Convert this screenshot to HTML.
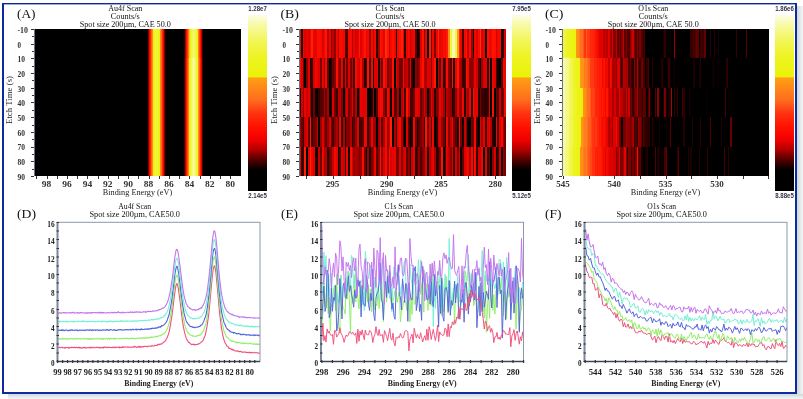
<!DOCTYPE html><html><head><meta charset="utf-8"><style>html,body{margin:0;padding:0;background:#fff;width:803px;height:399px;overflow:hidden}svg{display:block}</style></head><body><svg width="803" height="399" viewBox="0 0 803 399" font-family="'Liberation Serif', serif" fill="#222">
<defs>
<linearGradient id="cb" x1="0" y1="1" x2="0" y2="0">
<stop offset="0.000" stop-color="#000000"/>
<stop offset="0.120" stop-color="#000000"/>
<stop offset="0.176" stop-color="#500000"/>
<stop offset="0.233" stop-color="#b00000"/>
<stop offset="0.290" stop-color="#f00000"/>
<stop offset="0.360" stop-color="#ff1000"/>
<stop offset="0.440" stop-color="#ff3210"/>
<stop offset="0.520" stop-color="#ff6e1e"/>
<stop offset="0.644" stop-color="#ffa014"/>
<stop offset="0.646" stop-color="#eaf208"/>
<stop offset="0.760" stop-color="#eef422"/>
<stop offset="0.860" stop-color="#f2f65c"/>
<stop offset="0.950" stop-color="#f8faac"/>
<stop offset="1.000" stop-color="#fdfde8"/>
</linearGradient>
<linearGradient id="shr" x1="0" y1="0" x2="1" y2="0"><stop offset="0" stop-color="#cfd8d8"/><stop offset="1" stop-color="#f4f6f6"/></linearGradient>
<linearGradient id="shb" x1="0" y1="0" x2="0" y2="1"><stop offset="0" stop-color="#cfd8d8"/><stop offset="1" stop-color="#f4f6f6"/></linearGradient>
</defs>
<rect width="803" height="399" fill="#fff"/>
<rect x="797" y="6" width="6" height="393" fill="url(#shr)"/>
<rect x="8" y="394" width="795" height="5" fill="url(#shb)"/>
<g fill="#0d2a9e"><rect x="2" y="3" width="795" height="1.4"/><rect x="2" y="3" width="2" height="391"/><rect x="795" y="3" width="2" height="391"/><rect x="2" y="392" width="795" height="2"/></g>
<g shape-rendering="crispEdges">
<rect x="34.0" y="29" width="113.0" height="29" fill="#000000"/>
<rect x="147.0" y="29" width="1.0" height="29" fill="#0f0000"/>
<rect x="148.0" y="29" width="1.0" height="29" fill="#800000"/>
<rect x="149.0" y="29" width="1.0" height="29" fill="#ed0800"/>
<rect x="150.0" y="29" width="1.0" height="29" fill="#ff260a"/>
<rect x="151.0" y="29" width="1.0" height="29" fill="#ff621b"/>
<rect x="152.0" y="29" width="1.0" height="29" fill="#ff8c18"/>
<rect x="153.0" y="29" width="1.0" height="29" fill="#ebf30f"/>
<rect x="154.0" y="29" width="1.0" height="29" fill="#edf41e"/>
<rect x="155.0" y="29" width="1.0" height="29" fill="#eff531"/>
<rect x="156.0" y="29" width="1.0" height="29" fill="#f0f539"/>
<rect x="157.0" y="29" width="1.0" height="29" fill="#eff531"/>
<rect x="158.0" y="29" width="1.0" height="29" fill="#edf41e"/>
<rect x="159.0" y="29" width="1.0" height="29" fill="#ebf30f"/>
<rect x="160.0" y="29" width="1.0" height="29" fill="#ff8c18"/>
<rect x="161.0" y="29" width="1.0" height="29" fill="#ff621b"/>
<rect x="162.0" y="29" width="1.0" height="29" fill="#ff260a"/>
<rect x="163.0" y="29" width="1.0" height="29" fill="#ed0800"/>
<rect x="164.0" y="29" width="1.0" height="29" fill="#800000"/>
<rect x="165.0" y="29" width="1.0" height="29" fill="#0f0000"/>
<rect x="166.0" y="29" width="18.0" height="29" fill="#000000"/>
<rect x="184.0" y="29" width="1.0" height="29" fill="#230000"/>
<rect x="185.0" y="29" width="1.0" height="29" fill="#a20000"/>
<rect x="186.0" y="29" width="1.0" height="29" fill="#f80d00"/>
<rect x="187.0" y="29" width="1.0" height="29" fill="#ff3410"/>
<rect x="188.0" y="29" width="1.0" height="29" fill="#ff781c"/>
<rect x="189.0" y="29" width="1.0" height="29" fill="#f6c50f"/>
<rect x="190.0" y="29" width="1.0" height="29" fill="#edf41d"/>
<rect x="191.0" y="29" width="1.0" height="29" fill="#f0f540"/>
<rect x="192.0" y="29" width="1.0" height="29" fill="#f2f65c"/>
<rect x="193.0" y="29" width="1.0" height="29" fill="#f3f76e"/>
<rect x="194.0" y="29" width="1.0" height="29" fill="#f2f662"/>
<rect x="195.0" y="29" width="1.0" height="29" fill="#f1f547"/>
<rect x="196.0" y="29" width="1.0" height="29" fill="#eef420"/>
<rect x="197.0" y="29" width="1.0" height="29" fill="#ebf20c"/>
<rect x="198.0" y="29" width="1.0" height="29" fill="#ff801a"/>
<rect x="199.0" y="29" width="1.0" height="29" fill="#ff4314"/>
<rect x="200.0" y="29" width="1.0" height="29" fill="#ff1201"/>
<rect x="201.0" y="29" width="1.0" height="29" fill="#c20000"/>
<rect x="202.0" y="29" width="1.0" height="29" fill="#390000"/>
<rect x="203.0" y="29" width="38.0" height="29" fill="#000000"/>
<rect x="34.0" y="58" width="113.0" height="118" fill="#000000"/>
<rect x="147.0" y="58" width="1.0" height="118" fill="#0f0000"/>
<rect x="148.0" y="58" width="1.0" height="118" fill="#800000"/>
<rect x="149.0" y="58" width="1.0" height="118" fill="#ed0800"/>
<rect x="150.0" y="58" width="1.0" height="118" fill="#ff260a"/>
<rect x="151.0" y="58" width="1.0" height="118" fill="#ff621b"/>
<rect x="152.0" y="58" width="1.0" height="118" fill="#ff8c18"/>
<rect x="153.0" y="58" width="1.0" height="118" fill="#ebf30f"/>
<rect x="154.0" y="58" width="1.0" height="118" fill="#edf41e"/>
<rect x="155.0" y="58" width="1.0" height="118" fill="#eff531"/>
<rect x="156.0" y="58" width="1.0" height="118" fill="#f0f539"/>
<rect x="157.0" y="58" width="1.0" height="118" fill="#eff531"/>
<rect x="158.0" y="58" width="1.0" height="118" fill="#edf41e"/>
<rect x="159.0" y="58" width="1.0" height="118" fill="#ebf30f"/>
<rect x="160.0" y="58" width="1.0" height="118" fill="#ff8c18"/>
<rect x="161.0" y="58" width="1.0" height="118" fill="#ff621b"/>
<rect x="162.0" y="58" width="1.0" height="118" fill="#ff260a"/>
<rect x="163.0" y="58" width="1.0" height="118" fill="#ed0800"/>
<rect x="164.0" y="58" width="1.0" height="118" fill="#800000"/>
<rect x="165.0" y="58" width="1.0" height="118" fill="#0f0000"/>
<rect x="166.0" y="58" width="18.0" height="118" fill="#000000"/>
<rect x="184.0" y="58" width="1.0" height="118" fill="#350000"/>
<rect x="185.0" y="58" width="1.0" height="118" fill="#c00000"/>
<rect x="186.0" y="58" width="1.0" height="118" fill="#ff1301"/>
<rect x="187.0" y="58" width="1.0" height="118" fill="#ff4715"/>
<rect x="188.0" y="58" width="1.0" height="118" fill="#ff841a"/>
<rect x="189.0" y="58" width="1.0" height="118" fill="#ebf310"/>
<rect x="190.0" y="58" width="1.0" height="118" fill="#eff42d"/>
<rect x="191.0" y="58" width="1.0" height="118" fill="#f2f65a"/>
<rect x="192.0" y="58" width="1.0" height="118" fill="#f5f888"/>
<rect x="193.0" y="58" width="1.0" height="118" fill="#f7f99a"/>
<rect x="194.0" y="58" width="1.0" height="118" fill="#f6f88e"/>
<rect x="195.0" y="58" width="1.0" height="118" fill="#f3f665"/>
<rect x="196.0" y="58" width="1.0" height="118" fill="#eff537"/>
<rect x="197.0" y="58" width="1.0" height="118" fill="#ecf315"/>
<rect x="198.0" y="58" width="1.0" height="118" fill="#ff8d18"/>
<rect x="199.0" y="58" width="1.0" height="118" fill="#ff5619"/>
<rect x="200.0" y="58" width="1.0" height="118" fill="#ff1b05"/>
<rect x="201.0" y="58" width="1.0" height="118" fill="#de0100"/>
<rect x="202.0" y="58" width="1.0" height="118" fill="#4d0000"/>
<rect x="203.0" y="58" width="38.0" height="118" fill="#000000"/>
</g>
<g shape-rendering="crispEdges">
<rect x="299.0" y="29" width="1.8" height="29" fill="#f30a00"/>
<rect x="300.8" y="29" width="1.7" height="29" fill="#080000"/>
<rect x="302.5" y="29" width="1.8" height="29" fill="#ec0700"/>
<rect x="304.3" y="29" width="1.7" height="29" fill="#de0100"/>
<rect x="306.0" y="29" width="1.8" height="29" fill="#e80600"/>
<rect x="307.8" y="29" width="1.7" height="29" fill="#dc0000"/>
<rect x="309.5" y="29" width="1.8" height="29" fill="#f40b00"/>
<rect x="311.3" y="29" width="1.7" height="29" fill="#ff1f07"/>
<rect x="313.0" y="29" width="1.8" height="29" fill="#e70500"/>
<rect x="314.8" y="29" width="1.7" height="29" fill="#e50400"/>
<rect x="316.5" y="29" width="1.8" height="29" fill="#fe0f00"/>
<rect x="318.3" y="29" width="1.8" height="29" fill="#fb0e00"/>
<rect x="320.1" y="29" width="1.7" height="29" fill="#f50b00"/>
<rect x="321.8" y="29" width="1.8" height="29" fill="#de0100"/>
<rect x="323.6" y="29" width="1.7" height="29" fill="#f20a00"/>
<rect x="325.3" y="29" width="1.8" height="29" fill="#ff1301"/>
<rect x="327.1" y="29" width="1.7" height="29" fill="#bc0000"/>
<rect x="328.8" y="29" width="1.8" height="29" fill="#e80600"/>
<rect x="330.6" y="29" width="1.7" height="29" fill="#890000"/>
<rect x="332.3" y="29" width="1.8" height="29" fill="#c10000"/>
<rect x="334.1" y="29" width="1.7" height="29" fill="#8f0000"/>
<rect x="335.8" y="29" width="1.8" height="29" fill="#ed0800"/>
<rect x="337.6" y="29" width="1.7" height="29" fill="#c30000"/>
<rect x="339.3" y="29" width="1.8" height="29" fill="#f90d00"/>
<rect x="341.1" y="29" width="1.8" height="29" fill="#f60c00"/>
<rect x="342.9" y="29" width="1.7" height="29" fill="#ee0800"/>
<rect x="344.6" y="29" width="1.8" height="29" fill="#580000"/>
<rect x="346.4" y="29" width="1.7" height="29" fill="#4d0000"/>
<rect x="348.1" y="29" width="1.8" height="29" fill="#f10a00"/>
<rect x="349.9" y="29" width="1.7" height="29" fill="#f50b00"/>
<rect x="351.6" y="29" width="1.8" height="29" fill="#ab0000"/>
<rect x="353.4" y="29" width="1.7" height="29" fill="#e80500"/>
<rect x="355.1" y="29" width="1.8" height="29" fill="#dc0000"/>
<rect x="356.9" y="29" width="1.7" height="29" fill="#e00200"/>
<rect x="358.6" y="29" width="1.8" height="29" fill="#ff1a05"/>
<rect x="360.4" y="29" width="1.8" height="29" fill="#e00200"/>
<rect x="362.2" y="29" width="1.7" height="29" fill="#f20a00"/>
<rect x="363.9" y="29" width="1.8" height="29" fill="#ff1603"/>
<rect x="365.7" y="29" width="1.7" height="29" fill="#e50400"/>
<rect x="367.4" y="29" width="1.8" height="29" fill="#f00900"/>
<rect x="369.2" y="29" width="1.7" height="29" fill="#9c0000"/>
<rect x="370.9" y="29" width="1.8" height="29" fill="#f40b00"/>
<rect x="372.7" y="29" width="1.7" height="29" fill="#c70000"/>
<rect x="374.4" y="29" width="1.8" height="29" fill="#f40b00"/>
<rect x="376.2" y="29" width="1.7" height="29" fill="#280000"/>
<rect x="377.9" y="29" width="1.8" height="29" fill="#aa0000"/>
<rect x="379.7" y="29" width="1.7" height="29" fill="#ff1603"/>
<rect x="381.4" y="29" width="1.8" height="29" fill="#f50c00"/>
<rect x="383.2" y="29" width="1.8" height="29" fill="#e40400"/>
<rect x="385.0" y="29" width="1.7" height="29" fill="#ff2c0d"/>
<rect x="386.7" y="29" width="1.8" height="29" fill="#ff1402"/>
<rect x="388.5" y="29" width="1.7" height="29" fill="#ca0000"/>
<rect x="390.2" y="29" width="1.8" height="29" fill="#f40b00"/>
<rect x="392.0" y="29" width="1.7" height="29" fill="#ff1000"/>
<rect x="393.7" y="29" width="1.8" height="29" fill="#ee0800"/>
<rect x="395.5" y="29" width="1.7" height="29" fill="#0f0000"/>
<rect x="397.2" y="29" width="1.8" height="29" fill="#f10a00"/>
<rect x="399.0" y="29" width="1.7" height="29" fill="#ff1201"/>
<rect x="400.7" y="29" width="1.8" height="29" fill="#ff2108"/>
<rect x="402.5" y="29" width="1.8" height="29" fill="#e30300"/>
<rect x="404.3" y="29" width="1.7" height="29" fill="#370000"/>
<rect x="406.0" y="29" width="1.8" height="29" fill="#e80600"/>
<rect x="407.8" y="29" width="1.7" height="29" fill="#f50c00"/>
<rect x="409.5" y="29" width="1.8" height="29" fill="#cb0000"/>
<rect x="411.3" y="29" width="1.7" height="29" fill="#e50400"/>
<rect x="413.0" y="29" width="1.8" height="29" fill="#ee0800"/>
<rect x="414.8" y="29" width="1.7" height="29" fill="#5f0000"/>
<rect x="416.5" y="29" width="1.8" height="29" fill="#000000"/>
<rect x="418.3" y="29" width="1.7" height="29" fill="#290000"/>
<rect x="420.0" y="29" width="1.8" height="29" fill="#e10200"/>
<rect x="421.8" y="29" width="1.8" height="29" fill="#ff1201"/>
<rect x="423.6" y="29" width="1.7" height="29" fill="#810000"/>
<rect x="425.3" y="29" width="1.8" height="29" fill="#e80600"/>
<rect x="427.1" y="29" width="1.7" height="29" fill="#000000"/>
<rect x="428.8" y="29" width="1.8" height="29" fill="#ff1d06"/>
<rect x="430.6" y="29" width="1.7" height="29" fill="#600000"/>
<rect x="432.3" y="29" width="1.8" height="29" fill="#eb0700"/>
<rect x="434.1" y="29" width="1.7" height="29" fill="#810000"/>
<rect x="435.8" y="29" width="1.8" height="29" fill="#ed0800"/>
<rect x="437.6" y="29" width="1.7" height="29" fill="#ff2309"/>
<rect x="439.3" y="29" width="1.8" height="29" fill="#e90600"/>
<rect x="441.1" y="29" width="1.7" height="29" fill="#ec0700"/>
<rect x="442.8" y="29" width="1.8" height="29" fill="#fa0e00"/>
<rect x="444.6" y="29" width="1.8" height="29" fill="#f00900"/>
<rect x="446.4" y="29" width="1.7" height="29" fill="#ff1a05"/>
<rect x="448.1" y="29" width="1.8" height="29" fill="#ff8e18"/>
<rect x="449.9" y="29" width="1.7" height="29" fill="#f0f53f"/>
<rect x="451.6" y="29" width="1.8" height="29" fill="#f8faa9"/>
<rect x="453.4" y="29" width="1.7" height="29" fill="#f9fab5"/>
<rect x="455.1" y="29" width="1.8" height="29" fill="#f1f64e"/>
<rect x="456.9" y="29" width="1.7" height="29" fill="#ff9b15"/>
<rect x="458.6" y="29" width="1.8" height="29" fill="#ff260b"/>
<rect x="460.4" y="29" width="1.7" height="29" fill="#eb0700"/>
<rect x="462.1" y="29" width="1.8" height="29" fill="#480000"/>
<rect x="463.9" y="29" width="1.8" height="29" fill="#f20a00"/>
<rect x="465.7" y="29" width="1.7" height="29" fill="#ff1100"/>
<rect x="467.4" y="29" width="1.8" height="29" fill="#c10000"/>
<rect x="469.2" y="29" width="1.7" height="29" fill="#fa0e00"/>
<rect x="470.9" y="29" width="1.8" height="29" fill="#9d0000"/>
<rect x="472.7" y="29" width="1.7" height="29" fill="#080000"/>
<rect x="474.4" y="29" width="1.8" height="29" fill="#ec0700"/>
<rect x="476.2" y="29" width="1.7" height="29" fill="#de0100"/>
<rect x="477.9" y="29" width="1.8" height="29" fill="#f60c00"/>
<rect x="479.7" y="29" width="1.7" height="29" fill="#ff300f"/>
<rect x="481.4" y="29" width="1.8" height="29" fill="#e00200"/>
<rect x="483.2" y="29" width="1.7" height="29" fill="#e40400"/>
<rect x="484.9" y="29" width="1.8" height="29" fill="#0e0000"/>
<rect x="486.7" y="29" width="1.8" height="29" fill="#fe0f00"/>
<rect x="488.5" y="29" width="1.7" height="29" fill="#ef0800"/>
<rect x="490.2" y="29" width="1.8" height="29" fill="#ee0800"/>
<rect x="492.0" y="29" width="1.7" height="29" fill="#ff1301"/>
<rect x="493.7" y="29" width="1.8" height="29" fill="#fe1000"/>
<rect x="495.5" y="29" width="1.7" height="29" fill="#d90000"/>
<rect x="497.2" y="29" width="1.8" height="29" fill="#f10900"/>
<rect x="499.0" y="29" width="1.7" height="29" fill="#f30b00"/>
<rect x="500.7" y="29" width="1.8" height="29" fill="#1f0000"/>
<rect x="502.5" y="29" width="1.7" height="29" fill="#380000"/>
<rect x="504.2" y="29" width="1.8" height="29" fill="#df0100"/>
<rect x="299.0" y="58" width="1.8" height="30" fill="#fa0e00"/>
<rect x="300.8" y="58" width="1.7" height="30" fill="#dd0000"/>
<rect x="302.5" y="58" width="1.8" height="30" fill="#730000"/>
<rect x="304.3" y="58" width="1.7" height="30" fill="#000000"/>
<rect x="306.0" y="58" width="1.8" height="30" fill="#8a0000"/>
<rect x="307.8" y="58" width="1.7" height="30" fill="#e00200"/>
<rect x="309.5" y="58" width="1.8" height="30" fill="#1b0000"/>
<rect x="311.3" y="58" width="1.7" height="30" fill="#3f0000"/>
<rect x="313.0" y="58" width="1.8" height="30" fill="#dd0000"/>
<rect x="314.8" y="58" width="1.7" height="30" fill="#ee0800"/>
<rect x="316.5" y="58" width="1.8" height="30" fill="#e80600"/>
<rect x="318.3" y="58" width="1.8" height="30" fill="#e10200"/>
<rect x="320.1" y="58" width="1.7" height="30" fill="#7d0000"/>
<rect x="321.8" y="58" width="1.8" height="30" fill="#e70500"/>
<rect x="323.6" y="58" width="1.7" height="30" fill="#9d0000"/>
<rect x="325.3" y="58" width="1.8" height="30" fill="#f50b00"/>
<rect x="327.1" y="58" width="1.7" height="30" fill="#6b0000"/>
<rect x="328.8" y="58" width="1.8" height="30" fill="#050000"/>
<rect x="330.6" y="58" width="1.7" height="30" fill="#300000"/>
<rect x="332.3" y="58" width="1.8" height="30" fill="#670000"/>
<rect x="334.1" y="58" width="1.7" height="30" fill="#800000"/>
<rect x="335.8" y="58" width="1.8" height="30" fill="#fd0f00"/>
<rect x="337.6" y="58" width="1.7" height="30" fill="#b10000"/>
<rect x="339.3" y="58" width="1.8" height="30" fill="#800000"/>
<rect x="341.1" y="58" width="1.8" height="30" fill="#e50400"/>
<rect x="342.9" y="58" width="1.7" height="30" fill="#3b0000"/>
<rect x="344.6" y="58" width="1.8" height="30" fill="#e20300"/>
<rect x="346.4" y="58" width="1.7" height="30" fill="#750000"/>
<rect x="348.1" y="58" width="1.8" height="30" fill="#de0100"/>
<rect x="349.9" y="58" width="1.7" height="30" fill="#7a0000"/>
<rect x="351.6" y="58" width="1.8" height="30" fill="#c30000"/>
<rect x="353.4" y="58" width="1.7" height="30" fill="#380000"/>
<rect x="355.1" y="58" width="1.8" height="30" fill="#f70c00"/>
<rect x="356.9" y="58" width="1.7" height="30" fill="#e40300"/>
<rect x="358.6" y="58" width="1.8" height="30" fill="#db0000"/>
<rect x="360.4" y="58" width="1.8" height="30" fill="#fe1000"/>
<rect x="362.2" y="58" width="1.7" height="30" fill="#a90000"/>
<rect x="363.9" y="58" width="1.8" height="30" fill="#270000"/>
<rect x="365.7" y="58" width="1.7" height="30" fill="#410000"/>
<rect x="367.4" y="58" width="1.8" height="30" fill="#ff1000"/>
<rect x="369.2" y="58" width="1.7" height="30" fill="#490000"/>
<rect x="370.9" y="58" width="1.8" height="30" fill="#f10900"/>
<rect x="372.7" y="58" width="1.7" height="30" fill="#050000"/>
<rect x="374.4" y="58" width="1.8" height="30" fill="#de0100"/>
<rect x="376.2" y="58" width="1.7" height="30" fill="#e10200"/>
<rect x="377.9" y="58" width="1.8" height="30" fill="#1c0000"/>
<rect x="379.7" y="58" width="1.7" height="30" fill="#c90000"/>
<rect x="381.4" y="58" width="1.8" height="30" fill="#690000"/>
<rect x="383.2" y="58" width="1.8" height="30" fill="#fe1000"/>
<rect x="385.0" y="58" width="1.7" height="30" fill="#e90600"/>
<rect x="386.7" y="58" width="1.8" height="30" fill="#750000"/>
<rect x="388.5" y="58" width="1.7" height="30" fill="#a70000"/>
<rect x="390.2" y="58" width="1.8" height="30" fill="#a20000"/>
<rect x="392.0" y="58" width="1.7" height="30" fill="#ff1100"/>
<rect x="393.7" y="58" width="1.8" height="30" fill="#000000"/>
<rect x="395.5" y="58" width="1.7" height="30" fill="#de0100"/>
<rect x="397.2" y="58" width="1.8" height="30" fill="#bc0000"/>
<rect x="399.0" y="58" width="1.7" height="30" fill="#780000"/>
<rect x="400.7" y="58" width="1.8" height="30" fill="#6e0000"/>
<rect x="402.5" y="58" width="1.8" height="30" fill="#f00900"/>
<rect x="404.3" y="58" width="1.7" height="30" fill="#b80000"/>
<rect x="406.0" y="58" width="1.8" height="30" fill="#c70000"/>
<rect x="407.8" y="58" width="1.7" height="30" fill="#7e0000"/>
<rect x="409.5" y="58" width="1.8" height="30" fill="#de0100"/>
<rect x="411.3" y="58" width="1.7" height="30" fill="#350000"/>
<rect x="413.0" y="58" width="1.8" height="30" fill="#000000"/>
<rect x="414.8" y="58" width="1.7" height="30" fill="#8d0000"/>
<rect x="416.5" y="58" width="1.8" height="30" fill="#640000"/>
<rect x="418.3" y="58" width="1.7" height="30" fill="#950000"/>
<rect x="420.0" y="58" width="1.8" height="30" fill="#e90600"/>
<rect x="421.8" y="58" width="1.8" height="30" fill="#fe1000"/>
<rect x="423.6" y="58" width="1.7" height="30" fill="#bf0000"/>
<rect x="425.3" y="58" width="1.8" height="30" fill="#a50000"/>
<rect x="427.1" y="58" width="1.7" height="30" fill="#e00200"/>
<rect x="428.8" y="58" width="1.8" height="30" fill="#dc0000"/>
<rect x="430.6" y="58" width="1.7" height="30" fill="#810000"/>
<rect x="432.3" y="58" width="1.8" height="30" fill="#e60500"/>
<rect x="434.1" y="58" width="1.7" height="30" fill="#ff1904"/>
<rect x="435.8" y="58" width="1.8" height="30" fill="#0e0000"/>
<rect x="437.6" y="58" width="1.7" height="30" fill="#c90000"/>
<rect x="439.3" y="58" width="1.8" height="30" fill="#5c0000"/>
<rect x="441.1" y="58" width="1.7" height="30" fill="#e30300"/>
<rect x="442.8" y="58" width="1.8" height="30" fill="#280000"/>
<rect x="444.6" y="58" width="1.8" height="30" fill="#780000"/>
<rect x="446.4" y="58" width="1.7" height="30" fill="#f90d00"/>
<rect x="448.1" y="58" width="1.8" height="30" fill="#890000"/>
<rect x="449.9" y="58" width="1.7" height="30" fill="#5b0000"/>
<rect x="451.6" y="58" width="1.8" height="30" fill="#fe1000"/>
<rect x="453.4" y="58" width="1.7" height="30" fill="#110000"/>
<rect x="455.1" y="58" width="1.8" height="30" fill="#e80600"/>
<rect x="456.9" y="58" width="1.7" height="30" fill="#ff1804"/>
<rect x="458.6" y="58" width="1.8" height="30" fill="#ca0000"/>
<rect x="460.4" y="58" width="1.7" height="30" fill="#a50000"/>
<rect x="462.1" y="58" width="1.8" height="30" fill="#3b0000"/>
<rect x="463.9" y="58" width="1.8" height="30" fill="#450000"/>
<rect x="465.7" y="58" width="1.7" height="30" fill="#fd0f00"/>
<rect x="467.4" y="58" width="1.8" height="30" fill="#f20a00"/>
<rect x="469.2" y="58" width="1.7" height="30" fill="#850000"/>
<rect x="470.9" y="58" width="1.8" height="30" fill="#8d0000"/>
<rect x="472.7" y="58" width="1.7" height="30" fill="#ae0000"/>
<rect x="474.4" y="58" width="1.8" height="30" fill="#e30300"/>
<rect x="476.2" y="58" width="1.7" height="30" fill="#c90000"/>
<rect x="477.9" y="58" width="1.8" height="30" fill="#5a0000"/>
<rect x="479.7" y="58" width="1.7" height="30" fill="#060000"/>
<rect x="481.4" y="58" width="1.8" height="30" fill="#a00000"/>
<rect x="483.2" y="58" width="1.7" height="30" fill="#d80000"/>
<rect x="484.9" y="58" width="1.8" height="30" fill="#e10200"/>
<rect x="486.7" y="58" width="1.8" height="30" fill="#170000"/>
<rect x="488.5" y="58" width="1.7" height="30" fill="#e70500"/>
<rect x="490.2" y="58" width="1.8" height="30" fill="#1a0000"/>
<rect x="492.0" y="58" width="1.7" height="30" fill="#e90600"/>
<rect x="493.7" y="58" width="1.8" height="30" fill="#dd0100"/>
<rect x="495.5" y="58" width="1.7" height="30" fill="#4b0000"/>
<rect x="497.2" y="58" width="1.8" height="30" fill="#100000"/>
<rect x="499.0" y="58" width="1.7" height="30" fill="#000000"/>
<rect x="500.7" y="58" width="1.8" height="30" fill="#610000"/>
<rect x="502.5" y="58" width="1.7" height="30" fill="#ef0900"/>
<rect x="504.2" y="58" width="1.8" height="30" fill="#ec0700"/>
<rect x="299.0" y="88" width="1.8" height="29" fill="#2e0000"/>
<rect x="300.8" y="88" width="1.7" height="29" fill="#d70000"/>
<rect x="302.5" y="88" width="1.8" height="29" fill="#8e0000"/>
<rect x="304.3" y="88" width="1.7" height="29" fill="#ea0600"/>
<rect x="306.0" y="88" width="1.8" height="29" fill="#d20000"/>
<rect x="307.8" y="88" width="1.7" height="29" fill="#e20300"/>
<rect x="309.5" y="88" width="1.8" height="29" fill="#960000"/>
<rect x="311.3" y="88" width="1.7" height="29" fill="#1b0000"/>
<rect x="313.0" y="88" width="1.8" height="29" fill="#6e0000"/>
<rect x="314.8" y="88" width="1.7" height="29" fill="#100000"/>
<rect x="316.5" y="88" width="1.8" height="29" fill="#000000"/>
<rect x="318.3" y="88" width="1.8" height="29" fill="#340000"/>
<rect x="320.1" y="88" width="1.7" height="29" fill="#540000"/>
<rect x="321.8" y="88" width="1.8" height="29" fill="#640000"/>
<rect x="323.6" y="88" width="1.7" height="29" fill="#9a0000"/>
<rect x="325.3" y="88" width="1.8" height="29" fill="#660000"/>
<rect x="327.1" y="88" width="1.7" height="29" fill="#a30000"/>
<rect x="328.8" y="88" width="1.8" height="29" fill="#000000"/>
<rect x="330.6" y="88" width="1.7" height="29" fill="#2d0000"/>
<rect x="332.3" y="88" width="1.8" height="29" fill="#de0100"/>
<rect x="334.1" y="88" width="1.7" height="29" fill="#6a0000"/>
<rect x="335.8" y="88" width="1.8" height="29" fill="#3b0000"/>
<rect x="337.6" y="88" width="1.7" height="29" fill="#b50000"/>
<rect x="339.3" y="88" width="1.8" height="29" fill="#ba0000"/>
<rect x="341.1" y="88" width="1.8" height="29" fill="#820000"/>
<rect x="342.9" y="88" width="1.7" height="29" fill="#000000"/>
<rect x="344.6" y="88" width="1.8" height="29" fill="#a90000"/>
<rect x="346.4" y="88" width="1.7" height="29" fill="#de0100"/>
<rect x="348.1" y="88" width="1.8" height="29" fill="#700000"/>
<rect x="349.9" y="88" width="1.7" height="29" fill="#a20000"/>
<rect x="351.6" y="88" width="1.8" height="29" fill="#df0100"/>
<rect x="353.4" y="88" width="1.7" height="29" fill="#660000"/>
<rect x="355.1" y="88" width="1.8" height="29" fill="#b40000"/>
<rect x="356.9" y="88" width="1.7" height="29" fill="#000000"/>
<rect x="358.6" y="88" width="1.8" height="29" fill="#930000"/>
<rect x="360.4" y="88" width="1.8" height="29" fill="#e60500"/>
<rect x="362.2" y="88" width="1.7" height="29" fill="#e10200"/>
<rect x="363.9" y="88" width="1.8" height="29" fill="#e20300"/>
<rect x="365.7" y="88" width="1.7" height="29" fill="#e50400"/>
<rect x="367.4" y="88" width="3.5" height="29" fill="#000000"/>
<rect x="370.9" y="88" width="1.8" height="29" fill="#1f0000"/>
<rect x="372.7" y="88" width="1.7" height="29" fill="#9a0000"/>
<rect x="374.4" y="88" width="1.8" height="29" fill="#000000"/>
<rect x="376.2" y="88" width="1.7" height="29" fill="#590000"/>
<rect x="377.9" y="88" width="1.8" height="29" fill="#e80600"/>
<rect x="379.7" y="88" width="1.7" height="29" fill="#f60c00"/>
<rect x="381.4" y="88" width="1.8" height="29" fill="#f30a00"/>
<rect x="383.2" y="88" width="1.8" height="29" fill="#960000"/>
<rect x="385.0" y="88" width="1.7" height="29" fill="#550000"/>
<rect x="386.7" y="88" width="1.8" height="29" fill="#f10a00"/>
<rect x="388.5" y="88" width="1.7" height="29" fill="#ce0000"/>
<rect x="390.2" y="88" width="1.8" height="29" fill="#0a0000"/>
<rect x="392.0" y="88" width="1.7" height="29" fill="#e40400"/>
<rect x="393.7" y="88" width="1.8" height="29" fill="#560000"/>
<rect x="395.5" y="88" width="1.7" height="29" fill="#690000"/>
<rect x="397.2" y="88" width="1.8" height="29" fill="#a20000"/>
<rect x="399.0" y="88" width="1.7" height="29" fill="#000000"/>
<rect x="400.7" y="88" width="1.8" height="29" fill="#ba0000"/>
<rect x="402.5" y="88" width="1.8" height="29" fill="#e20300"/>
<rect x="404.3" y="88" width="1.7" height="29" fill="#4d0000"/>
<rect x="406.0" y="88" width="1.8" height="29" fill="#ff1100"/>
<rect x="407.8" y="88" width="1.7" height="29" fill="#d20000"/>
<rect x="409.5" y="88" width="1.8" height="29" fill="#380000"/>
<rect x="411.3" y="88" width="1.7" height="29" fill="#4d0000"/>
<rect x="413.0" y="88" width="1.8" height="29" fill="#6f0000"/>
<rect x="414.8" y="88" width="1.7" height="29" fill="#e60400"/>
<rect x="416.5" y="88" width="1.8" height="29" fill="#e50400"/>
<rect x="418.3" y="88" width="1.7" height="29" fill="#de0100"/>
<rect x="420.0" y="88" width="1.8" height="29" fill="#630000"/>
<rect x="421.8" y="88" width="1.8" height="29" fill="#950000"/>
<rect x="423.6" y="88" width="1.7" height="29" fill="#d70000"/>
<rect x="425.3" y="88" width="1.8" height="29" fill="#a80000"/>
<rect x="427.1" y="88" width="1.7" height="29" fill="#000000"/>
<rect x="428.8" y="88" width="1.8" height="29" fill="#7d0000"/>
<rect x="430.6" y="88" width="1.7" height="29" fill="#e50400"/>
<rect x="432.3" y="88" width="1.8" height="29" fill="#c00000"/>
<rect x="434.1" y="88" width="1.7" height="29" fill="#2f0000"/>
<rect x="435.8" y="88" width="1.8" height="29" fill="#780000"/>
<rect x="437.6" y="88" width="1.7" height="29" fill="#8f0000"/>
<rect x="439.3" y="88" width="1.8" height="29" fill="#e90600"/>
<rect x="441.1" y="88" width="1.7" height="29" fill="#d70000"/>
<rect x="442.8" y="88" width="1.8" height="29" fill="#a70000"/>
<rect x="444.6" y="88" width="1.8" height="29" fill="#120000"/>
<rect x="446.4" y="88" width="1.7" height="29" fill="#ba0000"/>
<rect x="448.1" y="88" width="1.8" height="29" fill="#a50000"/>
<rect x="449.9" y="88" width="1.7" height="29" fill="#8c0000"/>
<rect x="451.6" y="88" width="1.8" height="29" fill="#200000"/>
<rect x="453.4" y="88" width="1.7" height="29" fill="#370000"/>
<rect x="455.1" y="88" width="1.8" height="29" fill="#9b0000"/>
<rect x="456.9" y="88" width="1.7" height="29" fill="#e50400"/>
<rect x="458.6" y="88" width="1.8" height="29" fill="#a50000"/>
<rect x="460.4" y="88" width="1.7" height="29" fill="#9c0000"/>
<rect x="462.1" y="88" width="1.8" height="29" fill="#ed0800"/>
<rect x="463.9" y="88" width="1.8" height="29" fill="#270000"/>
<rect x="465.7" y="88" width="1.7" height="29" fill="#d10000"/>
<rect x="467.4" y="88" width="1.8" height="29" fill="#9b0000"/>
<rect x="469.2" y="88" width="1.7" height="29" fill="#eb0700"/>
<rect x="470.9" y="88" width="1.8" height="29" fill="#2e0000"/>
<rect x="472.7" y="88" width="1.7" height="29" fill="#f60c00"/>
<rect x="474.4" y="88" width="3.5" height="29" fill="#e30300"/>
<rect x="477.9" y="88" width="1.8" height="29" fill="#270000"/>
<rect x="479.7" y="88" width="1.7" height="29" fill="#720000"/>
<rect x="481.4" y="88" width="1.8" height="29" fill="#3a0000"/>
<rect x="483.2" y="88" width="1.7" height="29" fill="#360000"/>
<rect x="484.9" y="88" width="1.8" height="29" fill="#2a0000"/>
<rect x="486.7" y="88" width="1.8" height="29" fill="#330000"/>
<rect x="488.5" y="88" width="1.7" height="29" fill="#d80000"/>
<rect x="490.2" y="88" width="1.8" height="29" fill="#000000"/>
<rect x="492.0" y="88" width="1.7" height="29" fill="#fa0e00"/>
<rect x="493.7" y="88" width="1.8" height="29" fill="#000000"/>
<rect x="495.5" y="88" width="1.7" height="29" fill="#720000"/>
<rect x="497.2" y="88" width="1.8" height="29" fill="#4d0000"/>
<rect x="499.0" y="88" width="1.7" height="29" fill="#cb0000"/>
<rect x="500.7" y="88" width="1.8" height="29" fill="#620000"/>
<rect x="502.5" y="88" width="1.7" height="29" fill="#7b0000"/>
<rect x="504.2" y="88" width="1.8" height="29" fill="#f40b00"/>
<rect x="299.0" y="117" width="1.8" height="30" fill="#a70000"/>
<rect x="300.8" y="117" width="1.7" height="30" fill="#6b0000"/>
<rect x="302.5" y="117" width="1.8" height="30" fill="#310000"/>
<rect x="304.3" y="117" width="1.7" height="30" fill="#c40000"/>
<rect x="306.0" y="117" width="1.8" height="30" fill="#e10200"/>
<rect x="307.8" y="117" width="1.7" height="30" fill="#640000"/>
<rect x="309.5" y="117" width="1.8" height="30" fill="#ff1201"/>
<rect x="311.3" y="117" width="1.7" height="30" fill="#2f0000"/>
<rect x="313.0" y="117" width="1.8" height="30" fill="#700000"/>
<rect x="314.8" y="117" width="1.7" height="30" fill="#770000"/>
<rect x="316.5" y="117" width="1.8" height="30" fill="#c20000"/>
<rect x="318.3" y="117" width="1.8" height="30" fill="#000000"/>
<rect x="320.1" y="117" width="1.7" height="30" fill="#9a0000"/>
<rect x="321.8" y="117" width="1.8" height="30" fill="#de0100"/>
<rect x="323.6" y="117" width="1.7" height="30" fill="#a10000"/>
<rect x="325.3" y="117" width="1.8" height="30" fill="#5b0000"/>
<rect x="327.1" y="117" width="1.7" height="30" fill="#990000"/>
<rect x="328.8" y="117" width="1.8" height="30" fill="#d80000"/>
<rect x="330.6" y="117" width="1.7" height="30" fill="#6b0000"/>
<rect x="332.3" y="117" width="1.8" height="30" fill="#430000"/>
<rect x="334.1" y="117" width="1.7" height="30" fill="#8b0000"/>
<rect x="335.8" y="117" width="1.8" height="30" fill="#b10000"/>
<rect x="337.6" y="117" width="1.7" height="30" fill="#3a0000"/>
<rect x="339.3" y="117" width="1.8" height="30" fill="#ee0800"/>
<rect x="341.1" y="117" width="1.8" height="30" fill="#390000"/>
<rect x="342.9" y="117" width="1.7" height="30" fill="#af0000"/>
<rect x="344.6" y="117" width="1.8" height="30" fill="#160000"/>
<rect x="346.4" y="117" width="1.7" height="30" fill="#820000"/>
<rect x="348.1" y="117" width="1.8" height="30" fill="#840000"/>
<rect x="349.9" y="117" width="1.7" height="30" fill="#b00000"/>
<rect x="351.6" y="117" width="1.8" height="30" fill="#2b0000"/>
<rect x="353.4" y="117" width="1.7" height="30" fill="#5e0000"/>
<rect x="355.1" y="117" width="1.8" height="30" fill="#960000"/>
<rect x="356.9" y="117" width="1.7" height="30" fill="#df0200"/>
<rect x="358.6" y="117" width="1.8" height="30" fill="#1c0000"/>
<rect x="360.4" y="117" width="1.8" height="30" fill="#450000"/>
<rect x="362.2" y="117" width="1.7" height="30" fill="#660000"/>
<rect x="363.9" y="117" width="1.8" height="30" fill="#ee0800"/>
<rect x="365.7" y="117" width="1.7" height="30" fill="#e90600"/>
<rect x="367.4" y="117" width="1.8" height="30" fill="#2e0000"/>
<rect x="369.2" y="117" width="1.7" height="30" fill="#8a0000"/>
<rect x="370.9" y="117" width="1.8" height="30" fill="#ea0600"/>
<rect x="372.7" y="117" width="1.7" height="30" fill="#9a0000"/>
<rect x="374.4" y="117" width="1.8" height="30" fill="#9d0000"/>
<rect x="376.2" y="117" width="1.7" height="30" fill="#000000"/>
<rect x="377.9" y="117" width="1.8" height="30" fill="#a80000"/>
<rect x="379.7" y="117" width="1.7" height="30" fill="#e10200"/>
<rect x="381.4" y="117" width="1.8" height="30" fill="#550000"/>
<rect x="383.2" y="117" width="1.8" height="30" fill="#b00000"/>
<rect x="385.0" y="117" width="1.7" height="30" fill="#f10a00"/>
<rect x="386.7" y="117" width="1.8" height="30" fill="#a50000"/>
<rect x="388.5" y="117" width="1.7" height="30" fill="#ce0000"/>
<rect x="390.2" y="117" width="1.8" height="30" fill="#ff2208"/>
<rect x="392.0" y="117" width="1.7" height="30" fill="#000000"/>
<rect x="393.7" y="117" width="1.8" height="30" fill="#ae0000"/>
<rect x="395.5" y="117" width="1.7" height="30" fill="#3f0000"/>
<rect x="397.2" y="117" width="1.8" height="30" fill="#e30300"/>
<rect x="399.0" y="117" width="1.7" height="30" fill="#f70c00"/>
<rect x="400.7" y="117" width="1.8" height="30" fill="#af0000"/>
<rect x="402.5" y="117" width="1.8" height="30" fill="#470000"/>
<rect x="404.3" y="117" width="1.7" height="30" fill="#000000"/>
<rect x="406.0" y="117" width="1.8" height="30" fill="#dc0000"/>
<rect x="407.8" y="117" width="1.7" height="30" fill="#4a0000"/>
<rect x="409.5" y="117" width="1.8" height="30" fill="#020000"/>
<rect x="411.3" y="117" width="1.7" height="30" fill="#260000"/>
<rect x="413.0" y="117" width="1.8" height="30" fill="#ee0800"/>
<rect x="414.8" y="117" width="1.7" height="30" fill="#780000"/>
<rect x="416.5" y="117" width="1.8" height="30" fill="#1a0000"/>
<rect x="418.3" y="117" width="1.7" height="30" fill="#540000"/>
<rect x="420.0" y="117" width="1.8" height="30" fill="#7f0000"/>
<rect x="421.8" y="117" width="1.8" height="30" fill="#9a0000"/>
<rect x="423.6" y="117" width="1.7" height="30" fill="#1e0000"/>
<rect x="425.3" y="117" width="1.8" height="30" fill="#ff1402"/>
<rect x="427.1" y="117" width="1.7" height="30" fill="#870000"/>
<rect x="428.8" y="117" width="1.8" height="30" fill="#d20000"/>
<rect x="430.6" y="117" width="1.7" height="30" fill="#4e0000"/>
<rect x="432.3" y="117" width="1.8" height="30" fill="#ed0800"/>
<rect x="434.1" y="117" width="1.7" height="30" fill="#000000"/>
<rect x="435.8" y="117" width="1.8" height="30" fill="#270000"/>
<rect x="437.6" y="117" width="1.7" height="30" fill="#c20000"/>
<rect x="439.3" y="117" width="1.8" height="30" fill="#df0100"/>
<rect x="441.1" y="117" width="1.7" height="30" fill="#a00000"/>
<rect x="442.8" y="117" width="1.8" height="30" fill="#750000"/>
<rect x="444.6" y="117" width="1.8" height="30" fill="#000000"/>
<rect x="446.4" y="117" width="1.7" height="30" fill="#f00900"/>
<rect x="448.1" y="117" width="1.8" height="30" fill="#8a0000"/>
<rect x="449.9" y="117" width="1.7" height="30" fill="#c60000"/>
<rect x="451.6" y="117" width="1.8" height="30" fill="#eb0700"/>
<rect x="453.4" y="117" width="1.7" height="30" fill="#7b0000"/>
<rect x="455.1" y="117" width="1.8" height="30" fill="#5e0000"/>
<rect x="456.9" y="117" width="1.7" height="30" fill="#180000"/>
<rect x="458.6" y="117" width="1.8" height="30" fill="#f60c00"/>
<rect x="460.4" y="117" width="1.7" height="30" fill="#770000"/>
<rect x="462.1" y="117" width="1.8" height="30" fill="#170000"/>
<rect x="463.9" y="117" width="1.8" height="30" fill="#c80000"/>
<rect x="465.7" y="117" width="1.7" height="30" fill="#900000"/>
<rect x="467.4" y="117" width="3.5" height="30" fill="#000000"/>
<rect x="470.9" y="117" width="1.8" height="30" fill="#710000"/>
<rect x="472.7" y="117" width="1.7" height="30" fill="#670000"/>
<rect x="474.4" y="117" width="1.8" height="30" fill="#f40b00"/>
<rect x="476.2" y="117" width="1.7" height="30" fill="#360000"/>
<rect x="477.9" y="117" width="1.8" height="30" fill="#000000"/>
<rect x="479.7" y="117" width="1.7" height="30" fill="#e00200"/>
<rect x="481.4" y="117" width="1.8" height="30" fill="#9e0000"/>
<rect x="483.2" y="117" width="1.7" height="30" fill="#e20300"/>
<rect x="484.9" y="117" width="1.8" height="30" fill="#430000"/>
<rect x="486.7" y="117" width="1.8" height="30" fill="#dd0000"/>
<rect x="488.5" y="117" width="1.7" height="30" fill="#e70500"/>
<rect x="490.2" y="117" width="1.8" height="30" fill="#ac0000"/>
<rect x="492.0" y="117" width="1.7" height="30" fill="#290000"/>
<rect x="493.7" y="117" width="1.8" height="30" fill="#180000"/>
<rect x="495.5" y="117" width="1.7" height="30" fill="#ec0700"/>
<rect x="497.2" y="117" width="1.8" height="30" fill="#4a0000"/>
<rect x="499.0" y="117" width="1.7" height="30" fill="#de0100"/>
<rect x="500.7" y="117" width="1.8" height="30" fill="#f30b00"/>
<rect x="502.5" y="117" width="1.7" height="30" fill="#b20000"/>
<rect x="504.2" y="117" width="1.8" height="30" fill="#700000"/>
<rect x="299.0" y="147" width="1.8" height="29" fill="#e40400"/>
<rect x="300.8" y="147" width="1.7" height="29" fill="#250000"/>
<rect x="302.5" y="147" width="1.8" height="29" fill="#3f0000"/>
<rect x="304.3" y="147" width="1.7" height="29" fill="#ff1e07"/>
<rect x="306.0" y="147" width="1.8" height="29" fill="#000000"/>
<rect x="307.8" y="147" width="1.7" height="29" fill="#e30300"/>
<rect x="309.5" y="147" width="1.8" height="29" fill="#ff2209"/>
<rect x="311.3" y="147" width="1.7" height="29" fill="#ee0800"/>
<rect x="313.0" y="147" width="1.8" height="29" fill="#e10200"/>
<rect x="314.8" y="147" width="1.7" height="29" fill="#1c0000"/>
<rect x="316.5" y="147" width="1.8" height="29" fill="#140000"/>
<rect x="318.3" y="147" width="1.8" height="29" fill="#c80000"/>
<rect x="320.1" y="147" width="1.7" height="29" fill="#6a0000"/>
<rect x="321.8" y="147" width="1.8" height="29" fill="#ed0800"/>
<rect x="323.6" y="147" width="1.7" height="29" fill="#a60000"/>
<rect x="325.3" y="147" width="1.8" height="29" fill="#b30000"/>
<rect x="327.1" y="147" width="1.7" height="29" fill="#250000"/>
<rect x="328.8" y="147" width="1.8" height="29" fill="#790000"/>
<rect x="330.6" y="147" width="1.7" height="29" fill="#8a0000"/>
<rect x="332.3" y="147" width="1.8" height="29" fill="#cb0000"/>
<rect x="334.1" y="147" width="1.7" height="29" fill="#f30b00"/>
<rect x="335.8" y="147" width="1.8" height="29" fill="#e40400"/>
<rect x="337.6" y="147" width="1.7" height="29" fill="#000000"/>
<rect x="339.3" y="147" width="1.8" height="29" fill="#500000"/>
<rect x="341.1" y="147" width="1.8" height="29" fill="#dd0100"/>
<rect x="342.9" y="147" width="1.7" height="29" fill="#d00000"/>
<rect x="344.6" y="147" width="1.8" height="29" fill="#330000"/>
<rect x="346.4" y="147" width="1.7" height="29" fill="#ed0800"/>
<rect x="348.1" y="147" width="1.8" height="29" fill="#160000"/>
<rect x="349.9" y="147" width="1.7" height="29" fill="#fa0e00"/>
<rect x="351.6" y="147" width="1.8" height="29" fill="#dd0000"/>
<rect x="353.4" y="147" width="1.7" height="29" fill="#970000"/>
<rect x="355.1" y="147" width="1.8" height="29" fill="#af0000"/>
<rect x="356.9" y="147" width="1.7" height="29" fill="#9e0000"/>
<rect x="358.6" y="147" width="1.8" height="29" fill="#7f0000"/>
<rect x="360.4" y="147" width="1.8" height="29" fill="#9a0000"/>
<rect x="362.2" y="147" width="1.7" height="29" fill="#f60c00"/>
<rect x="363.9" y="147" width="1.8" height="29" fill="#700000"/>
<rect x="365.7" y="147" width="1.7" height="29" fill="#000000"/>
<rect x="367.4" y="147" width="1.8" height="29" fill="#990000"/>
<rect x="369.2" y="147" width="1.7" height="29" fill="#170000"/>
<rect x="370.9" y="147" width="1.8" height="29" fill="#7f0000"/>
<rect x="372.7" y="147" width="1.7" height="29" fill="#a70000"/>
<rect x="374.4" y="147" width="1.8" height="29" fill="#eb0700"/>
<rect x="376.2" y="147" width="1.7" height="29" fill="#560000"/>
<rect x="377.9" y="147" width="1.8" height="29" fill="#960000"/>
<rect x="379.7" y="147" width="1.7" height="29" fill="#ff1402"/>
<rect x="381.4" y="147" width="1.8" height="29" fill="#8b0000"/>
<rect x="383.2" y="147" width="1.8" height="29" fill="#dc0000"/>
<rect x="385.0" y="147" width="1.7" height="29" fill="#f40b00"/>
<rect x="386.7" y="147" width="1.8" height="29" fill="#a50000"/>
<rect x="388.5" y="147" width="1.7" height="29" fill="#f90d00"/>
<rect x="390.2" y="147" width="1.8" height="29" fill="#df0100"/>
<rect x="392.0" y="147" width="1.7" height="29" fill="#e40400"/>
<rect x="393.7" y="147" width="1.8" height="29" fill="#ea0600"/>
<rect x="395.5" y="147" width="1.7" height="29" fill="#6f0000"/>
<rect x="397.2" y="147" width="1.8" height="29" fill="#7b0000"/>
<rect x="399.0" y="147" width="1.7" height="29" fill="#dd0100"/>
<rect x="400.7" y="147" width="1.8" height="29" fill="#850000"/>
<rect x="402.5" y="147" width="1.8" height="29" fill="#d60000"/>
<rect x="404.3" y="147" width="1.7" height="29" fill="#de0100"/>
<rect x="406.0" y="147" width="1.8" height="29" fill="#5c0000"/>
<rect x="407.8" y="147" width="1.7" height="29" fill="#8e0000"/>
<rect x="409.5" y="147" width="1.8" height="29" fill="#090000"/>
<rect x="411.3" y="147" width="1.7" height="29" fill="#cd0000"/>
<rect x="413.0" y="147" width="1.8" height="29" fill="#e60400"/>
<rect x="414.8" y="147" width="1.7" height="29" fill="#270000"/>
<rect x="416.5" y="147" width="1.8" height="29" fill="#580000"/>
<rect x="418.3" y="147" width="1.7" height="29" fill="#900000"/>
<rect x="420.0" y="147" width="1.8" height="29" fill="#4f0000"/>
<rect x="421.8" y="147" width="1.8" height="29" fill="#870000"/>
<rect x="423.6" y="147" width="1.7" height="29" fill="#980000"/>
<rect x="425.3" y="147" width="1.8" height="29" fill="#dd0000"/>
<rect x="427.1" y="147" width="1.7" height="29" fill="#190000"/>
<rect x="428.8" y="147" width="1.8" height="29" fill="#ba0000"/>
<rect x="430.6" y="147" width="1.7" height="29" fill="#dd0000"/>
<rect x="432.3" y="147" width="1.8" height="29" fill="#e70500"/>
<rect x="434.1" y="147" width="1.7" height="29" fill="#a50000"/>
<rect x="435.8" y="147" width="1.8" height="29" fill="#2b0000"/>
<rect x="437.6" y="147" width="1.7" height="29" fill="#410000"/>
<rect x="439.3" y="147" width="1.8" height="29" fill="#740000"/>
<rect x="441.1" y="147" width="1.7" height="29" fill="#ff1101"/>
<rect x="442.8" y="147" width="1.8" height="29" fill="#000000"/>
<rect x="444.6" y="147" width="1.8" height="29" fill="#670000"/>
<rect x="446.4" y="147" width="1.7" height="29" fill="#e10200"/>
<rect x="448.1" y="147" width="1.8" height="29" fill="#ba0000"/>
<rect x="449.9" y="147" width="1.7" height="29" fill="#920000"/>
<rect x="451.6" y="147" width="1.8" height="29" fill="#d60000"/>
<rect x="453.4" y="147" width="1.7" height="29" fill="#350000"/>
<rect x="455.1" y="147" width="1.8" height="29" fill="#d40000"/>
<rect x="456.9" y="147" width="1.7" height="29" fill="#7a0000"/>
<rect x="458.6" y="147" width="1.8" height="29" fill="#ce0000"/>
<rect x="460.4" y="147" width="1.7" height="29" fill="#0c0000"/>
<rect x="462.1" y="147" width="1.8" height="29" fill="#5f0000"/>
<rect x="463.9" y="147" width="1.8" height="29" fill="#e10200"/>
<rect x="465.7" y="147" width="1.7" height="29" fill="#ea0700"/>
<rect x="467.4" y="147" width="1.8" height="29" fill="#f00900"/>
<rect x="469.2" y="147" width="1.7" height="29" fill="#ae0000"/>
<rect x="470.9" y="147" width="1.8" height="29" fill="#f10a00"/>
<rect x="472.7" y="147" width="1.7" height="29" fill="#620000"/>
<rect x="474.4" y="147" width="1.8" height="29" fill="#f60c00"/>
<rect x="476.2" y="147" width="1.7" height="29" fill="#390000"/>
<rect x="477.9" y="147" width="1.8" height="29" fill="#cf0000"/>
<rect x="479.7" y="147" width="1.7" height="29" fill="#cc0000"/>
<rect x="481.4" y="147" width="1.8" height="29" fill="#ef0800"/>
<rect x="483.2" y="147" width="1.7" height="29" fill="#030000"/>
<rect x="484.9" y="147" width="1.8" height="29" fill="#e10200"/>
<rect x="486.7" y="147" width="1.8" height="29" fill="#2d0000"/>
<rect x="488.5" y="147" width="1.7" height="29" fill="#700000"/>
<rect x="490.2" y="147" width="1.8" height="29" fill="#030000"/>
<rect x="492.0" y="147" width="1.7" height="29" fill="#8a0000"/>
<rect x="493.7" y="147" width="1.8" height="29" fill="#da0000"/>
<rect x="495.5" y="147" width="1.7" height="29" fill="#000000"/>
<rect x="497.2" y="147" width="1.8" height="29" fill="#390000"/>
<rect x="499.0" y="147" width="1.7" height="29" fill="#d50000"/>
<rect x="500.7" y="147" width="1.8" height="29" fill="#0c0000"/>
<rect x="502.5" y="147" width="1.7" height="29" fill="#900000"/>
<rect x="504.2" y="147" width="1.8" height="29" fill="#7b0000"/>
</g>
<g shape-rendering="crispEdges">
<rect x="562.0" y="29" width="1.4" height="29" fill="#f1f54c"/>
<rect x="563.4" y="29" width="1.4" height="29" fill="#f0f53f"/>
<rect x="564.8" y="29" width="1.3" height="29" fill="#eff531"/>
<rect x="566.1" y="29" width="1.4" height="29" fill="#eff42a"/>
<rect x="567.5" y="29" width="1.4" height="29" fill="#eef422"/>
<rect x="568.9" y="29" width="1.4" height="29" fill="#edf41f"/>
<rect x="570.3" y="29" width="2.7" height="29" fill="#ecf317"/>
<rect x="573.0" y="29" width="1.4" height="29" fill="#ebf310"/>
<rect x="574.4" y="29" width="1.4" height="29" fill="#ebf20d"/>
<rect x="575.8" y="29" width="1.4" height="29" fill="#ff9816"/>
<rect x="577.2" y="29" width="1.4" height="29" fill="#ff9017"/>
<rect x="578.6" y="29" width="1.3" height="29" fill="#ff811a"/>
<rect x="579.9" y="29" width="2.8" height="29" fill="#ff701e"/>
<rect x="582.7" y="29" width="1.4" height="29" fill="#ff5518"/>
<rect x="584.1" y="29" width="1.4" height="29" fill="#ff3511"/>
<rect x="585.5" y="29" width="1.3" height="29" fill="#ff5919"/>
<rect x="586.8" y="29" width="2.8" height="29" fill="#ff3c12"/>
<rect x="589.6" y="29" width="1.4" height="29" fill="#ff2409"/>
<rect x="591.0" y="29" width="1.4" height="29" fill="#ff2a0c"/>
<rect x="592.4" y="29" width="1.3" height="29" fill="#ff250a"/>
<rect x="593.7" y="29" width="1.4" height="29" fill="#ff2007"/>
<rect x="595.1" y="29" width="1.4" height="29" fill="#ff1201"/>
<rect x="596.5" y="29" width="2.8" height="29" fill="#f40b00"/>
<rect x="599.3" y="29" width="1.3" height="29" fill="#e20300"/>
<rect x="600.6" y="29" width="1.4" height="29" fill="#df0100"/>
<rect x="602.0" y="29" width="1.4" height="29" fill="#e50400"/>
<rect x="603.4" y="29" width="1.4" height="29" fill="#bc0000"/>
<rect x="604.8" y="29" width="1.4" height="29" fill="#ce0000"/>
<rect x="606.2" y="29" width="1.3" height="29" fill="#be0000"/>
<rect x="607.5" y="29" width="1.4" height="29" fill="#e70500"/>
<rect x="608.9" y="29" width="1.4" height="29" fill="#df0100"/>
<rect x="610.3" y="29" width="1.4" height="29" fill="#a60000"/>
<rect x="611.7" y="29" width="1.4" height="29" fill="#da0000"/>
<rect x="613.1" y="29" width="1.3" height="29" fill="#7c0000"/>
<rect x="614.4" y="29" width="1.4" height="29" fill="#8a0000"/>
<rect x="615.8" y="29" width="1.4" height="29" fill="#bd0000"/>
<rect x="617.2" y="29" width="1.4" height="29" fill="#5e0000"/>
<rect x="618.6" y="29" width="1.4" height="29" fill="#7e0000"/>
<rect x="620.0" y="29" width="1.3" height="29" fill="#530000"/>
<rect x="621.3" y="29" width="1.4" height="29" fill="#850000"/>
<rect x="622.7" y="29" width="1.4" height="29" fill="#c60000"/>
<rect x="624.1" y="29" width="1.4" height="29" fill="#5e0000"/>
<rect x="625.5" y="29" width="1.4" height="29" fill="#810000"/>
<rect x="626.9" y="29" width="1.3" height="29" fill="#540000"/>
<rect x="628.2" y="29" width="1.4" height="29" fill="#480000"/>
<rect x="629.6" y="29" width="1.4" height="29" fill="#880000"/>
<rect x="631.0" y="29" width="1.4" height="29" fill="#ab0000"/>
<rect x="632.4" y="29" width="1.4" height="29" fill="#d10000"/>
<rect x="633.8" y="29" width="1.3" height="29" fill="#7b0000"/>
<rect x="635.1" y="29" width="1.4" height="29" fill="#4b0000"/>
<rect x="636.5" y="29" width="1.4" height="29" fill="#7e0000"/>
<rect x="637.9" y="29" width="1.4" height="29" fill="#540000"/>
<rect x="639.3" y="29" width="1.4" height="29" fill="#7c0000"/>
<rect x="640.7" y="29" width="1.3" height="29" fill="#580000"/>
<rect x="642.0" y="29" width="1.4" height="29" fill="#450000"/>
<rect x="643.4" y="29" width="1.4" height="29" fill="#400000"/>
<rect x="644.8" y="29" width="1.4" height="29" fill="#020000"/>
<rect x="646.2" y="29" width="16.5" height="29" fill="#000000"/>
<rect x="662.7" y="29" width="1.4" height="29" fill="#190000"/>
<rect x="664.1" y="29" width="1.4" height="29" fill="#310000"/>
<rect x="665.5" y="29" width="1.4" height="29" fill="#000000"/>
<rect x="666.9" y="29" width="1.4" height="29" fill="#0d0000"/>
<rect x="668.3" y="29" width="1.3" height="29" fill="#000000"/>
<rect x="669.6" y="29" width="1.4" height="29" fill="#0c0000"/>
<rect x="671.0" y="29" width="2.8" height="29" fill="#000000"/>
<rect x="673.8" y="29" width="1.4" height="29" fill="#920000"/>
<rect x="675.2" y="29" width="1.3" height="29" fill="#0b0000"/>
<rect x="676.5" y="29" width="13.8" height="29" fill="#000000"/>
<rect x="690.3" y="29" width="1.4" height="29" fill="#330000"/>
<rect x="691.7" y="29" width="1.4" height="29" fill="#3c0000"/>
<rect x="693.1" y="29" width="1.4" height="29" fill="#440000"/>
<rect x="694.5" y="29" width="1.4" height="29" fill="#500000"/>
<rect x="695.9" y="29" width="1.3" height="29" fill="#650000"/>
<rect x="697.2" y="29" width="1.4" height="29" fill="#5c0000"/>
<rect x="698.6" y="29" width="1.4" height="29" fill="#000000"/>
<rect x="700.0" y="29" width="1.4" height="29" fill="#410000"/>
<rect x="701.4" y="29" width="1.4" height="29" fill="#3f0000"/>
<rect x="702.8" y="29" width="1.3" height="29" fill="#320000"/>
<rect x="704.1" y="29" width="1.4" height="29" fill="#630000"/>
<rect x="705.5" y="29" width="4.2" height="29" fill="#000000"/>
<rect x="709.7" y="29" width="1.3" height="29" fill="#220000"/>
<rect x="711.0" y="29" width="2.8" height="29" fill="#000000"/>
<rect x="713.8" y="29" width="1.4" height="29" fill="#250000"/>
<rect x="715.2" y="29" width="2.7" height="29" fill="#000000"/>
<rect x="717.9" y="29" width="1.4" height="29" fill="#130000"/>
<rect x="719.3" y="29" width="16.6" height="29" fill="#000000"/>
<rect x="735.9" y="29" width="1.4" height="29" fill="#340000"/>
<rect x="737.3" y="29" width="8.2" height="29" fill="#000000"/>
<rect x="745.5" y="29" width="1.4" height="29" fill="#540000"/>
<rect x="746.9" y="29" width="22.1" height="29" fill="#000000"/>
<rect x="562.0" y="58" width="1.4" height="30" fill="#fafbc3"/>
<rect x="563.4" y="58" width="1.4" height="30" fill="#f8faab"/>
<rect x="564.8" y="58" width="1.3" height="30" fill="#f7f99f"/>
<rect x="566.1" y="58" width="1.4" height="30" fill="#f6f991"/>
<rect x="567.5" y="58" width="1.4" height="30" fill="#f4f87d"/>
<rect x="568.9" y="58" width="1.4" height="30" fill="#f3f768"/>
<rect x="570.3" y="58" width="1.4" height="30" fill="#f1f652"/>
<rect x="571.7" y="58" width="1.3" height="30" fill="#f0f545"/>
<rect x="573.0" y="58" width="1.4" height="30" fill="#eff535"/>
<rect x="574.4" y="58" width="1.4" height="30" fill="#eef422"/>
<rect x="575.8" y="58" width="1.4" height="30" fill="#edf41d"/>
<rect x="577.2" y="58" width="1.4" height="30" fill="#ecf316"/>
<rect x="578.6" y="58" width="1.3" height="30" fill="#ebf310"/>
<rect x="579.9" y="58" width="1.4" height="30" fill="#ff9b15"/>
<rect x="581.3" y="58" width="1.4" height="30" fill="#ff9217"/>
<rect x="582.7" y="58" width="1.4" height="30" fill="#ff8f17"/>
<rect x="584.1" y="58" width="2.7" height="30" fill="#ff7c1b"/>
<rect x="586.8" y="58" width="1.4" height="30" fill="#ff721d"/>
<rect x="588.2" y="58" width="1.4" height="30" fill="#ff631b"/>
<rect x="589.6" y="58" width="1.4" height="30" fill="#ff3b12"/>
<rect x="591.0" y="58" width="1.4" height="30" fill="#ff3d12"/>
<rect x="592.4" y="58" width="1.3" height="30" fill="#ff3912"/>
<rect x="593.7" y="58" width="2.8" height="30" fill="#ff2a0c"/>
<rect x="596.5" y="58" width="1.4" height="30" fill="#ff1804"/>
<rect x="597.9" y="58" width="1.4" height="30" fill="#ff2309"/>
<rect x="599.3" y="58" width="1.3" height="30" fill="#ff1804"/>
<rect x="600.6" y="58" width="1.4" height="30" fill="#ff1b05"/>
<rect x="602.0" y="58" width="1.4" height="30" fill="#ec0700"/>
<rect x="603.4" y="58" width="1.4" height="30" fill="#ff1000"/>
<rect x="604.8" y="58" width="1.4" height="30" fill="#ed0800"/>
<rect x="606.2" y="58" width="1.3" height="30" fill="#f10900"/>
<rect x="607.5" y="58" width="1.4" height="30" fill="#c50000"/>
<rect x="608.9" y="58" width="1.4" height="30" fill="#c90000"/>
<rect x="610.3" y="58" width="1.4" height="30" fill="#f40b00"/>
<rect x="611.7" y="58" width="1.4" height="30" fill="#ab0000"/>
<rect x="613.1" y="58" width="1.3" height="30" fill="#a70000"/>
<rect x="614.4" y="58" width="1.4" height="30" fill="#b00000"/>
<rect x="615.8" y="58" width="1.4" height="30" fill="#840000"/>
<rect x="617.2" y="58" width="1.4" height="30" fill="#dc0000"/>
<rect x="618.6" y="58" width="1.4" height="30" fill="#e00200"/>
<rect x="620.0" y="58" width="1.3" height="30" fill="#760000"/>
<rect x="621.3" y="58" width="1.4" height="30" fill="#480000"/>
<rect x="622.7" y="58" width="1.4" height="30" fill="#b90000"/>
<rect x="624.1" y="58" width="1.4" height="30" fill="#b10000"/>
<rect x="625.5" y="58" width="1.4" height="30" fill="#9f0000"/>
<rect x="626.9" y="58" width="1.3" height="30" fill="#a80000"/>
<rect x="628.2" y="58" width="1.4" height="30" fill="#510000"/>
<rect x="629.6" y="58" width="1.4" height="30" fill="#670000"/>
<rect x="631.0" y="58" width="1.4" height="30" fill="#340000"/>
<rect x="632.4" y="58" width="1.4" height="30" fill="#2f0000"/>
<rect x="633.8" y="58" width="1.3" height="30" fill="#850000"/>
<rect x="635.1" y="58" width="1.4" height="30" fill="#410000"/>
<rect x="636.5" y="58" width="1.4" height="30" fill="#b40000"/>
<rect x="637.9" y="58" width="1.4" height="30" fill="#540000"/>
<rect x="639.3" y="58" width="1.4" height="30" fill="#350000"/>
<rect x="640.7" y="58" width="1.3" height="30" fill="#620000"/>
<rect x="642.0" y="58" width="1.4" height="30" fill="#7f0000"/>
<rect x="643.4" y="58" width="1.4" height="30" fill="#450000"/>
<rect x="644.8" y="58" width="1.4" height="30" fill="#000000"/>
<rect x="646.2" y="58" width="1.4" height="30" fill="#2f0000"/>
<rect x="647.6" y="58" width="1.3" height="30" fill="#4c0000"/>
<rect x="648.9" y="58" width="2.8" height="30" fill="#000000"/>
<rect x="651.7" y="58" width="1.4" height="30" fill="#260000"/>
<rect x="653.1" y="58" width="1.4" height="30" fill="#030000"/>
<rect x="654.5" y="58" width="4.1" height="30" fill="#000000"/>
<rect x="658.6" y="58" width="1.4" height="30" fill="#040000"/>
<rect x="660.0" y="58" width="1.4" height="30" fill="#000000"/>
<rect x="661.4" y="58" width="1.3" height="30" fill="#210000"/>
<rect x="662.7" y="58" width="1.4" height="30" fill="#0f0000"/>
<rect x="664.1" y="58" width="1.4" height="30" fill="#000000"/>
<rect x="665.5" y="58" width="1.4" height="30" fill="#010000"/>
<rect x="666.9" y="58" width="1.4" height="30" fill="#120000"/>
<rect x="668.3" y="58" width="1.3" height="30" fill="#360000"/>
<rect x="669.6" y="58" width="1.4" height="30" fill="#140000"/>
<rect x="671.0" y="58" width="2.8" height="30" fill="#000000"/>
<rect x="673.8" y="58" width="1.4" height="30" fill="#0c0000"/>
<rect x="675.2" y="58" width="2.7" height="30" fill="#000000"/>
<rect x="677.9" y="58" width="1.4" height="30" fill="#0b0000"/>
<rect x="679.3" y="58" width="13.8" height="30" fill="#000000"/>
<rect x="693.1" y="58" width="1.4" height="30" fill="#1a0000"/>
<rect x="694.5" y="58" width="4.1" height="30" fill="#000000"/>
<rect x="698.6" y="58" width="1.4" height="30" fill="#150000"/>
<rect x="700.0" y="58" width="1.4" height="30" fill="#250000"/>
<rect x="701.4" y="58" width="11.0" height="30" fill="#000000"/>
<rect x="712.4" y="58" width="1.4" height="30" fill="#0d0000"/>
<rect x="713.8" y="58" width="1.4" height="30" fill="#070000"/>
<rect x="715.2" y="58" width="2.7" height="30" fill="#000000"/>
<rect x="717.9" y="58" width="1.4" height="30" fill="#100000"/>
<rect x="719.3" y="58" width="6.9" height="30" fill="#000000"/>
<rect x="726.2" y="58" width="1.4" height="30" fill="#2d0000"/>
<rect x="727.6" y="58" width="41.4" height="30" fill="#000000"/>
<rect x="562.0" y="88" width="1.4" height="29" fill="#f9fbb7"/>
<rect x="563.4" y="88" width="1.4" height="29" fill="#f8faab"/>
<rect x="564.8" y="88" width="1.3" height="29" fill="#f6f994"/>
<rect x="566.1" y="88" width="1.4" height="29" fill="#f6f88b"/>
<rect x="567.5" y="88" width="1.4" height="29" fill="#f5f87f"/>
<rect x="568.9" y="88" width="1.4" height="29" fill="#f3f665"/>
<rect x="570.3" y="88" width="1.4" height="29" fill="#f1f655"/>
<rect x="571.7" y="88" width="1.3" height="29" fill="#f0f543"/>
<rect x="573.0" y="88" width="1.4" height="29" fill="#f0f53a"/>
<rect x="574.4" y="88" width="1.4" height="29" fill="#eff42b"/>
<rect x="575.8" y="88" width="1.4" height="29" fill="#eef41f"/>
<rect x="577.2" y="88" width="1.4" height="29" fill="#ecf314"/>
<rect x="578.6" y="88" width="2.7" height="29" fill="#ebf311"/>
<rect x="581.3" y="88" width="1.4" height="29" fill="#eaf209"/>
<rect x="582.7" y="88" width="1.4" height="29" fill="#ff9317"/>
<rect x="584.1" y="88" width="1.4" height="29" fill="#ff8f17"/>
<rect x="585.5" y="88" width="1.3" height="29" fill="#ff7d1b"/>
<rect x="586.8" y="88" width="1.4" height="29" fill="#ff761c"/>
<rect x="588.2" y="88" width="1.4" height="29" fill="#ff6d1e"/>
<rect x="589.6" y="88" width="1.4" height="29" fill="#ff5f1b"/>
<rect x="591.0" y="88" width="1.4" height="29" fill="#ff3c12"/>
<rect x="592.4" y="88" width="1.3" height="29" fill="#ff4214"/>
<rect x="593.7" y="88" width="1.4" height="29" fill="#ff3d13"/>
<rect x="595.1" y="88" width="1.4" height="29" fill="#ff270b"/>
<rect x="596.5" y="88" width="1.4" height="29" fill="#ff2108"/>
<rect x="597.9" y="88" width="1.4" height="29" fill="#ff250a"/>
<rect x="599.3" y="88" width="1.3" height="29" fill="#ff1b05"/>
<rect x="600.6" y="88" width="1.4" height="29" fill="#fc0f00"/>
<rect x="602.0" y="88" width="1.4" height="29" fill="#ff1d06"/>
<rect x="603.4" y="88" width="1.4" height="29" fill="#ff1000"/>
<rect x="604.8" y="88" width="1.4" height="29" fill="#f00900"/>
<rect x="606.2" y="88" width="1.3" height="29" fill="#ff1502"/>
<rect x="607.5" y="88" width="1.4" height="29" fill="#e70500"/>
<rect x="608.9" y="88" width="1.4" height="29" fill="#ca0000"/>
<rect x="610.3" y="88" width="1.4" height="29" fill="#df0100"/>
<rect x="611.7" y="88" width="1.4" height="29" fill="#ab0000"/>
<rect x="613.1" y="88" width="1.3" height="29" fill="#ae0000"/>
<rect x="614.4" y="88" width="1.4" height="29" fill="#d80000"/>
<rect x="615.8" y="88" width="1.4" height="29" fill="#a40000"/>
<rect x="617.2" y="88" width="1.4" height="29" fill="#a00000"/>
<rect x="618.6" y="88" width="1.4" height="29" fill="#e20300"/>
<rect x="620.0" y="88" width="1.3" height="29" fill="#c80000"/>
<rect x="621.3" y="88" width="1.4" height="29" fill="#bc0000"/>
<rect x="622.7" y="88" width="1.4" height="29" fill="#a60000"/>
<rect x="624.1" y="88" width="1.4" height="29" fill="#9e0000"/>
<rect x="625.5" y="88" width="1.4" height="29" fill="#c50000"/>
<rect x="626.9" y="88" width="1.3" height="29" fill="#7f0000"/>
<rect x="628.2" y="88" width="1.4" height="29" fill="#ce0000"/>
<rect x="629.6" y="88" width="1.4" height="29" fill="#540000"/>
<rect x="631.0" y="88" width="1.4" height="29" fill="#6b0000"/>
<rect x="632.4" y="88" width="1.4" height="29" fill="#3d0000"/>
<rect x="633.8" y="88" width="1.3" height="29" fill="#600000"/>
<rect x="635.1" y="88" width="1.4" height="29" fill="#7d0000"/>
<rect x="636.5" y="88" width="1.4" height="29" fill="#a20000"/>
<rect x="637.9" y="88" width="1.4" height="29" fill="#4a0000"/>
<rect x="639.3" y="88" width="1.4" height="29" fill="#5f0000"/>
<rect x="640.7" y="88" width="1.3" height="29" fill="#4e0000"/>
<rect x="642.0" y="88" width="1.4" height="29" fill="#3c0000"/>
<rect x="643.4" y="88" width="1.4" height="29" fill="#5e0000"/>
<rect x="644.8" y="88" width="1.4" height="29" fill="#530000"/>
<rect x="646.2" y="88" width="1.4" height="29" fill="#0c0000"/>
<rect x="647.6" y="88" width="1.3" height="29" fill="#470000"/>
<rect x="648.9" y="88" width="1.4" height="29" fill="#7f0000"/>
<rect x="650.3" y="88" width="1.4" height="29" fill="#150000"/>
<rect x="651.7" y="88" width="2.8" height="29" fill="#000000"/>
<rect x="654.5" y="88" width="1.3" height="29" fill="#540000"/>
<rect x="655.8" y="88" width="1.4" height="29" fill="#000000"/>
<rect x="657.2" y="88" width="1.4" height="29" fill="#890000"/>
<rect x="658.6" y="88" width="1.4" height="29" fill="#140000"/>
<rect x="660.0" y="88" width="2.7" height="29" fill="#000000"/>
<rect x="662.7" y="88" width="1.4" height="29" fill="#200000"/>
<rect x="664.1" y="88" width="1.4" height="29" fill="#7d0000"/>
<rect x="665.5" y="88" width="1.4" height="29" fill="#120000"/>
<rect x="666.9" y="88" width="1.4" height="29" fill="#000000"/>
<rect x="668.3" y="88" width="1.3" height="29" fill="#1b0000"/>
<rect x="669.6" y="88" width="1.4" height="29" fill="#000000"/>
<rect x="671.0" y="88" width="1.4" height="29" fill="#b30000"/>
<rect x="672.4" y="88" width="1.4" height="29" fill="#000000"/>
<rect x="673.8" y="88" width="1.4" height="29" fill="#370000"/>
<rect x="675.2" y="88" width="1.3" height="29" fill="#000000"/>
<rect x="676.5" y="88" width="1.4" height="29" fill="#390000"/>
<rect x="677.9" y="88" width="4.2" height="29" fill="#000000"/>
<rect x="682.1" y="88" width="1.3" height="29" fill="#460000"/>
<rect x="683.4" y="88" width="1.4" height="29" fill="#2b0000"/>
<rect x="684.8" y="88" width="4.2" height="29" fill="#000000"/>
<rect x="689.0" y="88" width="1.3" height="29" fill="#190000"/>
<rect x="690.3" y="88" width="1.4" height="29" fill="#000000"/>
<rect x="691.7" y="88" width="1.4" height="29" fill="#010000"/>
<rect x="693.1" y="88" width="12.4" height="29" fill="#000000"/>
<rect x="705.5" y="88" width="1.4" height="29" fill="#0d0000"/>
<rect x="706.9" y="88" width="17.9" height="29" fill="#000000"/>
<rect x="724.8" y="88" width="1.4" height="29" fill="#460000"/>
<rect x="726.2" y="88" width="5.5" height="29" fill="#000000"/>
<rect x="731.7" y="88" width="1.4" height="29" fill="#0d0000"/>
<rect x="733.1" y="88" width="35.9" height="29" fill="#000000"/>
<rect x="562.0" y="117" width="1.4" height="30" fill="#f9fbb8"/>
<rect x="563.4" y="117" width="1.4" height="30" fill="#f8faa8"/>
<rect x="564.8" y="117" width="1.3" height="30" fill="#f7f99a"/>
<rect x="566.1" y="117" width="1.4" height="30" fill="#f5f88a"/>
<rect x="567.5" y="117" width="1.4" height="30" fill="#f4f77a"/>
<rect x="568.9" y="117" width="1.4" height="30" fill="#f2f661"/>
<rect x="570.3" y="117" width="1.4" height="30" fill="#f1f654"/>
<rect x="571.7" y="117" width="1.3" height="30" fill="#f0f542"/>
<rect x="573.0" y="117" width="1.4" height="30" fill="#eff534"/>
<rect x="574.4" y="117" width="1.4" height="30" fill="#eef422"/>
<rect x="575.8" y="117" width="1.4" height="30" fill="#edf41c"/>
<rect x="577.2" y="117" width="1.4" height="30" fill="#ecf315"/>
<rect x="578.6" y="117" width="1.3" height="30" fill="#ebf311"/>
<rect x="579.9" y="117" width="1.4" height="30" fill="#eaf20a"/>
<rect x="581.3" y="117" width="1.4" height="30" fill="#ff9516"/>
<rect x="582.7" y="117" width="1.4" height="30" fill="#ff8819"/>
<rect x="584.1" y="117" width="1.4" height="30" fill="#ff7e1b"/>
<rect x="585.5" y="117" width="1.3" height="30" fill="#ff811a"/>
<rect x="586.8" y="117" width="1.4" height="30" fill="#ff6e1e"/>
<rect x="588.2" y="117" width="1.4" height="30" fill="#ff5e1a"/>
<rect x="589.6" y="117" width="1.4" height="30" fill="#ff5c1a"/>
<rect x="591.0" y="117" width="1.4" height="30" fill="#ff4715"/>
<rect x="592.4" y="117" width="1.3" height="30" fill="#ff3811"/>
<rect x="593.7" y="117" width="1.4" height="30" fill="#ff2c0d"/>
<rect x="595.1" y="117" width="1.4" height="30" fill="#ff3811"/>
<rect x="596.5" y="117" width="1.4" height="30" fill="#ff270b"/>
<rect x="597.9" y="117" width="1.4" height="30" fill="#ff2309"/>
<rect x="599.3" y="117" width="1.3" height="30" fill="#ff1a05"/>
<rect x="600.6" y="117" width="1.4" height="30" fill="#fe1000"/>
<rect x="602.0" y="117" width="1.4" height="30" fill="#f10a00"/>
<rect x="603.4" y="117" width="1.4" height="30" fill="#fc0f00"/>
<rect x="604.8" y="117" width="1.4" height="30" fill="#f40b00"/>
<rect x="606.2" y="117" width="1.3" height="30" fill="#e50400"/>
<rect x="607.5" y="117" width="1.4" height="30" fill="#ba0000"/>
<rect x="608.9" y="117" width="1.4" height="30" fill="#a40000"/>
<rect x="610.3" y="117" width="1.4" height="30" fill="#cc0000"/>
<rect x="611.7" y="117" width="1.4" height="30" fill="#8f0000"/>
<rect x="613.1" y="117" width="2.7" height="30" fill="#e10200"/>
<rect x="615.8" y="117" width="1.4" height="30" fill="#f10a00"/>
<rect x="617.2" y="117" width="1.4" height="30" fill="#d00000"/>
<rect x="618.6" y="117" width="1.4" height="30" fill="#830000"/>
<rect x="620.0" y="117" width="1.3" height="30" fill="#700000"/>
<rect x="621.3" y="117" width="1.4" height="30" fill="#070000"/>
<rect x="622.7" y="117" width="1.4" height="30" fill="#6e0000"/>
<rect x="624.1" y="117" width="1.4" height="30" fill="#7a0000"/>
<rect x="625.5" y="117" width="1.4" height="30" fill="#a70000"/>
<rect x="626.9" y="117" width="1.3" height="30" fill="#920000"/>
<rect x="628.2" y="117" width="1.4" height="30" fill="#8c0000"/>
<rect x="629.6" y="117" width="1.4" height="30" fill="#780000"/>
<rect x="631.0" y="117" width="1.4" height="30" fill="#850000"/>
<rect x="632.4" y="117" width="1.4" height="30" fill="#a40000"/>
<rect x="633.8" y="117" width="1.3" height="30" fill="#3b0000"/>
<rect x="635.1" y="117" width="1.4" height="30" fill="#4e0000"/>
<rect x="636.5" y="117" width="1.4" height="30" fill="#270000"/>
<rect x="637.9" y="117" width="1.4" height="30" fill="#980000"/>
<rect x="639.3" y="117" width="1.4" height="30" fill="#840000"/>
<rect x="640.7" y="117" width="1.3" height="30" fill="#6b0000"/>
<rect x="642.0" y="117" width="1.4" height="30" fill="#1b0000"/>
<rect x="643.4" y="117" width="1.4" height="30" fill="#460000"/>
<rect x="644.8" y="117" width="1.4" height="30" fill="#2e0000"/>
<rect x="646.2" y="117" width="1.4" height="30" fill="#310000"/>
<rect x="647.6" y="117" width="1.3" height="30" fill="#1e0000"/>
<rect x="648.9" y="117" width="1.4" height="30" fill="#2f0000"/>
<rect x="650.3" y="117" width="1.4" height="30" fill="#040000"/>
<rect x="651.7" y="117" width="1.4" height="30" fill="#2a0000"/>
<rect x="653.1" y="117" width="1.4" height="30" fill="#0b0000"/>
<rect x="654.5" y="117" width="4.1" height="30" fill="#000000"/>
<rect x="658.6" y="117" width="1.4" height="30" fill="#190000"/>
<rect x="660.0" y="117" width="1.4" height="30" fill="#000000"/>
<rect x="661.4" y="117" width="1.3" height="30" fill="#030000"/>
<rect x="662.7" y="117" width="2.8" height="30" fill="#000000"/>
<rect x="665.5" y="117" width="1.4" height="30" fill="#150000"/>
<rect x="666.9" y="117" width="1.4" height="30" fill="#000000"/>
<rect x="668.3" y="117" width="1.3" height="30" fill="#0a0000"/>
<rect x="669.6" y="117" width="1.4" height="30" fill="#4e0000"/>
<rect x="671.0" y="117" width="6.9" height="30" fill="#000000"/>
<rect x="677.9" y="117" width="1.4" height="30" fill="#020000"/>
<rect x="679.3" y="117" width="4.1" height="30" fill="#000000"/>
<rect x="683.4" y="117" width="1.4" height="30" fill="#200000"/>
<rect x="684.8" y="117" width="6.9" height="30" fill="#000000"/>
<rect x="691.7" y="117" width="1.4" height="30" fill="#240000"/>
<rect x="693.1" y="117" width="6.9" height="30" fill="#000000"/>
<rect x="700.0" y="117" width="1.4" height="30" fill="#2d0000"/>
<rect x="701.4" y="117" width="8.3" height="30" fill="#000000"/>
<rect x="709.7" y="117" width="1.3" height="30" fill="#4c0000"/>
<rect x="711.0" y="117" width="9.7" height="30" fill="#000000"/>
<rect x="720.7" y="117" width="1.4" height="30" fill="#210000"/>
<rect x="722.1" y="117" width="1.4" height="30" fill="#000000"/>
<rect x="723.5" y="117" width="1.3" height="30" fill="#010000"/>
<rect x="724.8" y="117" width="5.6" height="30" fill="#000000"/>
<rect x="730.4" y="117" width="1.3" height="30" fill="#650000"/>
<rect x="731.7" y="117" width="37.3" height="30" fill="#000000"/>
<rect x="562.0" y="147" width="1.4" height="29" fill="#f8faab"/>
<rect x="563.4" y="147" width="1.4" height="29" fill="#f7f99e"/>
<rect x="564.8" y="147" width="1.3" height="29" fill="#f5f887"/>
<rect x="566.1" y="147" width="1.4" height="29" fill="#f4f87b"/>
<rect x="567.5" y="147" width="1.4" height="29" fill="#f3f76c"/>
<rect x="568.9" y="147" width="1.4" height="29" fill="#f2f656"/>
<rect x="570.3" y="147" width="1.4" height="29" fill="#f1f548"/>
<rect x="571.7" y="147" width="1.3" height="29" fill="#eff534"/>
<rect x="573.0" y="147" width="1.4" height="29" fill="#eef423"/>
<rect x="574.4" y="147" width="1.4" height="29" fill="#edf41e"/>
<rect x="575.8" y="147" width="1.4" height="29" fill="#ecf318"/>
<rect x="577.2" y="147" width="1.4" height="29" fill="#ecf317"/>
<rect x="578.6" y="147" width="1.3" height="29" fill="#ebf20c"/>
<rect x="579.9" y="147" width="1.4" height="29" fill="#ff9217"/>
<rect x="581.3" y="147" width="1.4" height="29" fill="#ff9117"/>
<rect x="582.7" y="147" width="1.4" height="29" fill="#ff801a"/>
<rect x="584.1" y="147" width="1.4" height="29" fill="#ff741d"/>
<rect x="585.5" y="147" width="1.3" height="29" fill="#ff7f1b"/>
<rect x="586.8" y="147" width="1.4" height="29" fill="#ff681d"/>
<rect x="588.2" y="147" width="1.4" height="29" fill="#ff5a19"/>
<rect x="589.6" y="147" width="1.4" height="29" fill="#ff4715"/>
<rect x="591.0" y="147" width="1.4" height="29" fill="#ff4615"/>
<rect x="592.4" y="147" width="2.7" height="29" fill="#ff310f"/>
<rect x="595.1" y="147" width="1.4" height="29" fill="#ff2108"/>
<rect x="596.5" y="147" width="1.4" height="29" fill="#ff1a05"/>
<rect x="597.9" y="147" width="1.4" height="29" fill="#ff2409"/>
<rect x="599.3" y="147" width="1.3" height="29" fill="#ff1f07"/>
<rect x="600.6" y="147" width="1.4" height="29" fill="#ff1502"/>
<rect x="602.0" y="147" width="1.4" height="29" fill="#fd0f00"/>
<rect x="603.4" y="147" width="1.4" height="29" fill="#f40b00"/>
<rect x="604.8" y="147" width="1.4" height="29" fill="#e20300"/>
<rect x="606.2" y="147" width="1.3" height="29" fill="#f30a00"/>
<rect x="607.5" y="147" width="1.4" height="29" fill="#e60500"/>
<rect x="608.9" y="147" width="1.4" height="29" fill="#e20300"/>
<rect x="610.3" y="147" width="1.4" height="29" fill="#dd0100"/>
<rect x="611.7" y="147" width="1.4" height="29" fill="#e20300"/>
<rect x="613.1" y="147" width="2.7" height="29" fill="#d20000"/>
<rect x="615.8" y="147" width="1.4" height="29" fill="#740000"/>
<rect x="617.2" y="147" width="1.4" height="29" fill="#b20000"/>
<rect x="618.6" y="147" width="1.4" height="29" fill="#e10200"/>
<rect x="620.0" y="147" width="1.3" height="29" fill="#730000"/>
<rect x="621.3" y="147" width="1.4" height="29" fill="#7d0000"/>
<rect x="622.7" y="147" width="1.4" height="29" fill="#a50000"/>
<rect x="624.1" y="147" width="1.4" height="29" fill="#e30300"/>
<rect x="625.5" y="147" width="1.4" height="29" fill="#8e0000"/>
<rect x="626.9" y="147" width="1.3" height="29" fill="#330000"/>
<rect x="628.2" y="147" width="1.4" height="29" fill="#7e0000"/>
<rect x="629.6" y="147" width="1.4" height="29" fill="#7c0000"/>
<rect x="631.0" y="147" width="1.4" height="29" fill="#430000"/>
<rect x="632.4" y="147" width="1.4" height="29" fill="#720000"/>
<rect x="633.8" y="147" width="1.3" height="29" fill="#4d0000"/>
<rect x="635.1" y="147" width="1.4" height="29" fill="#720000"/>
<rect x="636.5" y="147" width="1.4" height="29" fill="#fb0e00"/>
<rect x="637.9" y="147" width="1.4" height="29" fill="#660000"/>
<rect x="639.3" y="147" width="1.4" height="29" fill="#5b0000"/>
<rect x="640.7" y="147" width="2.7" height="29" fill="#160000"/>
<rect x="643.4" y="147" width="1.4" height="29" fill="#000000"/>
<rect x="644.8" y="147" width="1.4" height="29" fill="#090000"/>
<rect x="646.2" y="147" width="1.4" height="29" fill="#210000"/>
<rect x="647.6" y="147" width="6.9" height="29" fill="#000000"/>
<rect x="654.5" y="147" width="1.3" height="29" fill="#500000"/>
<rect x="655.8" y="147" width="1.4" height="29" fill="#000000"/>
<rect x="657.2" y="147" width="1.4" height="29" fill="#1f0000"/>
<rect x="658.6" y="147" width="1.4" height="29" fill="#1e0000"/>
<rect x="660.0" y="147" width="1.4" height="29" fill="#000000"/>
<rect x="661.4" y="147" width="1.3" height="29" fill="#0d0000"/>
<rect x="662.7" y="147" width="1.4" height="29" fill="#000000"/>
<rect x="664.1" y="147" width="1.4" height="29" fill="#470000"/>
<rect x="665.5" y="147" width="1.4" height="29" fill="#660000"/>
<rect x="666.9" y="147" width="6.9" height="29" fill="#000000"/>
<rect x="673.8" y="147" width="1.4" height="29" fill="#040000"/>
<rect x="675.2" y="147" width="1.3" height="29" fill="#000000"/>
<rect x="676.5" y="147" width="1.4" height="29" fill="#2d0000"/>
<rect x="677.9" y="147" width="1.4" height="29" fill="#530000"/>
<rect x="679.3" y="147" width="8.3" height="29" fill="#000000"/>
<rect x="687.6" y="147" width="1.4" height="29" fill="#210000"/>
<rect x="689.0" y="147" width="1.3" height="29" fill="#000000"/>
<rect x="690.3" y="147" width="1.4" height="29" fill="#220000"/>
<rect x="691.7" y="147" width="6.9" height="29" fill="#000000"/>
<rect x="698.6" y="147" width="1.4" height="29" fill="#230000"/>
<rect x="700.0" y="147" width="6.9" height="29" fill="#000000"/>
<rect x="706.9" y="147" width="1.4" height="29" fill="#370000"/>
<rect x="708.3" y="147" width="15.2" height="29" fill="#000000"/>
<rect x="723.5" y="147" width="1.3" height="29" fill="#450000"/>
<rect x="724.8" y="147" width="2.8" height="29" fill="#000000"/>
<rect x="727.6" y="147" width="1.4" height="29" fill="#2c0000"/>
<rect x="729.0" y="147" width="40.0" height="29" fill="#000000"/>
</g>
<rect x="248" y="15" width="19" height="176" fill="url(#cb)"/>
<rect x="512" y="15" width="19" height="176" fill="url(#cb)"/>
<rect x="775" y="15" width="19" height="176" fill="url(#cb)"/>
<g font-family="'Liberation Sans', sans-serif" font-size="7" text-anchor="middle" fill="#223"><text x="257.5" y="11.0" font-size="6.6" text-anchor="middle" textLength="18.6" lengthAdjust="spacingAndGlyphs" font-weight="bold" font-family="'Liberation Sans', sans-serif" fill="#334">1.28e7</text><text x="257.5" y="198.0" font-size="6.6" text-anchor="middle" textLength="18.6" lengthAdjust="spacingAndGlyphs" font-weight="bold" font-family="'Liberation Sans', sans-serif" fill="#334">2.14e5</text><text x="521.5" y="11.0" font-size="6.6" text-anchor="middle" textLength="18.6" lengthAdjust="spacingAndGlyphs" font-weight="bold" font-family="'Liberation Sans', sans-serif" fill="#334">7.95e5</text><text x="521.5" y="198.0" font-size="6.6" text-anchor="middle" textLength="18.6" lengthAdjust="spacingAndGlyphs" font-weight="bold" font-family="'Liberation Sans', sans-serif" fill="#334">5.12e5</text><text x="784.5" y="11.0" font-size="6.6" text-anchor="middle" textLength="18.6" lengthAdjust="spacingAndGlyphs" font-weight="bold" font-family="'Liberation Sans', sans-serif" fill="#334">1.86e6</text><text x="784.5" y="198.0" font-size="6.6" text-anchor="middle" textLength="18.6" lengthAdjust="spacingAndGlyphs" font-weight="bold" font-family="'Liberation Sans', sans-serif" fill="#334">8.88e5</text></g>
<g font-size="8" text-anchor="middle" fill="#111"><text x="125.3" y="10.8" font-size="8" text-anchor="middle" textLength="34" lengthAdjust="spacingAndGlyphs">Au4f Scan</text><text x="125.3" y="18.8" font-size="8" text-anchor="middle" textLength="29" lengthAdjust="spacingAndGlyphs">Counts/s</text><text x="125.3" y="26.6" font-size="8" text-anchor="middle" textLength="91" lengthAdjust="spacingAndGlyphs">Spot size 200µm,  CAE 50.0</text><text x="390.0" y="10.8" font-size="8" text-anchor="middle" textLength="29" lengthAdjust="spacingAndGlyphs">C1s Scan</text><text x="390.0" y="18.8" font-size="8" text-anchor="middle" textLength="29" lengthAdjust="spacingAndGlyphs">Counts/s</text><text x="390.0" y="26.6" font-size="8" text-anchor="middle" textLength="91" lengthAdjust="spacingAndGlyphs">Spot size 200µm,  CAE 50.0</text><text x="653.2" y="10.8" font-size="8" text-anchor="middle" textLength="30" lengthAdjust="spacingAndGlyphs">O1s Scan</text><text x="653.2" y="18.8" font-size="8" text-anchor="middle" textLength="29" lengthAdjust="spacingAndGlyphs">Counts/s</text><text x="653.2" y="26.6" font-size="8" text-anchor="middle" textLength="91" lengthAdjust="spacingAndGlyphs">Spot size 200µm,  CAE 50.0</text></g>
<text x="17.0" y="17.9" font-size="13" textLength="18.5" lengthAdjust="spacingAndGlyphs" fill="#111">(A)</text>
<text x="280.5" y="17.9" font-size="13" textLength="18.5" lengthAdjust="spacingAndGlyphs" fill="#111">(B)</text>
<text x="545.0" y="17.9" font-size="13" textLength="18.5" lengthAdjust="spacingAndGlyphs" fill="#111">(C)</text>
<text x="17.0" y="217.6" font-size="13" textLength="19" lengthAdjust="spacingAndGlyphs" fill="#111">(D)</text>
<text x="281.0" y="217.6" font-size="13" textLength="17" lengthAdjust="spacingAndGlyphs" fill="#111">(E)</text>
<text x="545.0" y="217.6" font-size="13" textLength="16.5" lengthAdjust="spacingAndGlyphs" fill="#111">(F)</text>
<g font-size="7.5" font-weight="bold" fill="#333"><text x="17.5" y="32.8" font-size="7.3" textLength="10.5" lengthAdjust="spacingAndGlyphs">-10</text><text x="17.5" y="47.5" font-size="7.3" textLength="3.5" lengthAdjust="spacingAndGlyphs">0</text><text x="17.5" y="62.2" font-size="7.3" textLength="7.5" lengthAdjust="spacingAndGlyphs">10</text><text x="17.5" y="76.9" font-size="7.3" textLength="7.5" lengthAdjust="spacingAndGlyphs">20</text><text x="17.5" y="91.6" font-size="7.3" textLength="7.5" lengthAdjust="spacingAndGlyphs">30</text><text x="17.5" y="106.3" font-size="7.3" textLength="7.5" lengthAdjust="spacingAndGlyphs">40</text><text x="17.5" y="121.0" font-size="7.3" textLength="7.5" lengthAdjust="spacingAndGlyphs">50</text><text x="17.5" y="135.7" font-size="7.3" textLength="7.5" lengthAdjust="spacingAndGlyphs">60</text><text x="17.5" y="150.4" font-size="7.3" textLength="7.5" lengthAdjust="spacingAndGlyphs">70</text><text x="17.5" y="165.1" font-size="7.3" textLength="7.5" lengthAdjust="spacingAndGlyphs">80</text><text x="17.5" y="179.8" font-size="7.3" textLength="7.5" lengthAdjust="spacingAndGlyphs">90</text></g>
<path d="M31,29.5h3M32,36.5h2M31,44.5h3M32,51.5h2M31,58.5h3M32,66.5h2M31,73.5h3M32,80.5h2M31,88.5h3M32,95.5h2M31,102.5h3M32,110.5h2M31,117.5h3M32,125.5h2M31,132.5h3M32,139.5h2M31,147.5h3M32,154.5h2M31,161.5h3M32,169.5h2M31,176.5h3" stroke="#333" stroke-width="1" fill="none"/>
<line x1="34.5" y1="29" x2="34.5" y2="176" stroke="#6a7480" stroke-width="1"/>
<text transform="translate(11.5,100) rotate(-90)" font-size="8" text-anchor="middle" textLength="48" lengthAdjust="spacingAndGlyphs">Etch Time (s)</text>
<text x="137.5" y="195.0" font-size="8" text-anchor="middle" textLength="69.3" lengthAdjust="spacingAndGlyphs">Binding Energy (eV)</text>
<g font-size="7.5" font-weight="bold" fill="#333"><text x="282.5" y="32.8" font-size="7.3" textLength="10.5" lengthAdjust="spacingAndGlyphs">-10</text><text x="282.5" y="47.5" font-size="7.3" textLength="3.5" lengthAdjust="spacingAndGlyphs">0</text><text x="282.5" y="62.2" font-size="7.3" textLength="7.5" lengthAdjust="spacingAndGlyphs">10</text><text x="282.5" y="76.9" font-size="7.3" textLength="7.5" lengthAdjust="spacingAndGlyphs">20</text><text x="282.5" y="91.6" font-size="7.3" textLength="7.5" lengthAdjust="spacingAndGlyphs">30</text><text x="282.5" y="106.3" font-size="7.3" textLength="7.5" lengthAdjust="spacingAndGlyphs">40</text><text x="282.5" y="121.0" font-size="7.3" textLength="7.5" lengthAdjust="spacingAndGlyphs">50</text><text x="282.5" y="135.7" font-size="7.3" textLength="7.5" lengthAdjust="spacingAndGlyphs">60</text><text x="282.5" y="150.4" font-size="7.3" textLength="7.5" lengthAdjust="spacingAndGlyphs">70</text><text x="282.5" y="165.1" font-size="7.3" textLength="7.5" lengthAdjust="spacingAndGlyphs">80</text><text x="282.5" y="179.8" font-size="7.3" textLength="7.5" lengthAdjust="spacingAndGlyphs">90</text></g>
<path d="M296,29.5h3M297,36.5h2M296,44.5h3M297,51.5h2M296,58.5h3M297,66.5h2M296,73.5h3M297,80.5h2M296,88.5h3M297,95.5h2M296,102.5h3M297,110.5h2M296,117.5h3M297,125.5h2M296,132.5h3M297,139.5h2M296,147.5h3M297,154.5h2M296,161.5h3M297,169.5h2M296,176.5h3" stroke="#333" stroke-width="1" fill="none"/>
<line x1="299.5" y1="29" x2="299.5" y2="176" stroke="#6a7480" stroke-width="1"/>
<text transform="translate(276.5,100) rotate(-90)" font-size="8" text-anchor="middle" textLength="48" lengthAdjust="spacingAndGlyphs">Etch Time (s)</text>
<text x="402.5" y="195.0" font-size="8" text-anchor="middle" textLength="69.3" lengthAdjust="spacingAndGlyphs">Binding Energy (eV)</text>
<g font-size="7.5" font-weight="bold" fill="#333"><text x="545.5" y="32.8" font-size="7.3" textLength="10.5" lengthAdjust="spacingAndGlyphs">-10</text><text x="545.5" y="47.5" font-size="7.3" textLength="3.5" lengthAdjust="spacingAndGlyphs">0</text><text x="545.5" y="62.2" font-size="7.3" textLength="7.5" lengthAdjust="spacingAndGlyphs">10</text><text x="545.5" y="76.9" font-size="7.3" textLength="7.5" lengthAdjust="spacingAndGlyphs">20</text><text x="545.5" y="91.6" font-size="7.3" textLength="7.5" lengthAdjust="spacingAndGlyphs">30</text><text x="545.5" y="106.3" font-size="7.3" textLength="7.5" lengthAdjust="spacingAndGlyphs">40</text><text x="545.5" y="121.0" font-size="7.3" textLength="7.5" lengthAdjust="spacingAndGlyphs">50</text><text x="545.5" y="135.7" font-size="7.3" textLength="7.5" lengthAdjust="spacingAndGlyphs">60</text><text x="545.5" y="150.4" font-size="7.3" textLength="7.5" lengthAdjust="spacingAndGlyphs">70</text><text x="545.5" y="165.1" font-size="7.3" textLength="7.5" lengthAdjust="spacingAndGlyphs">80</text><text x="545.5" y="179.8" font-size="7.3" textLength="7.5" lengthAdjust="spacingAndGlyphs">90</text></g>
<path d="M559,29.5h3M560,36.5h2M559,44.5h3M560,51.5h2M559,58.5h3M560,66.5h2M559,73.5h3M560,80.5h2M559,88.5h3M560,95.5h2M559,102.5h3M560,110.5h2M559,117.5h3M560,125.5h2M559,132.5h3M560,139.5h2M559,147.5h3M560,154.5h2M559,161.5h3M560,169.5h2M559,176.5h3" stroke="#333" stroke-width="1" fill="none"/>
<line x1="562.5" y1="29" x2="562.5" y2="176" stroke="#6a7480" stroke-width="1"/>
<text transform="translate(539.5,100) rotate(-90)" font-size="8" text-anchor="middle" textLength="48" lengthAdjust="spacingAndGlyphs">Etch Time (s)</text>
<text x="665.5" y="195.0" font-size="8" text-anchor="middle" textLength="69.3" lengthAdjust="spacingAndGlyphs">Binding Energy (eV)</text>
<path d="M230.5,176v3M220.5,176v3M210.5,176v3M200.5,176v3M189.5,176v3M179.5,176v3M169.5,176v3M159.5,176v3M149.5,176v3M138.5,176v3M128.5,176v3M118.5,176v3M108.5,176v3M98.5,176v3M87.5,176v3M77.5,176v3M67.5,176v3M57.5,176v3M47.5,176v3M36.5,176v3M495.5,176v3M468.5,176v3M441.5,176v3M414.5,176v3M387.5,176v3M360.5,176v3M333.5,176v3M306.5,176v3M768.5,176v3M743.5,176v3M717.5,176v3M691.5,176v3M666.5,176v3M640.5,176v3M614.5,176v3M589.5,176v3M563.5,176v3" stroke="#333" stroke-width="1" fill="none"/>
<g font-size="7.8" text-anchor="middle" font-weight="bold" fill="#333"><text x="230.2" y="186.6" font-size="7.8" text-anchor="middle" textLength="9.5" lengthAdjust="spacingAndGlyphs">80</text><text x="209.8" y="186.6" font-size="7.8" text-anchor="middle" textLength="9.5" lengthAdjust="spacingAndGlyphs">82</text><text x="189.4" y="186.6" font-size="7.8" text-anchor="middle" textLength="9.5" lengthAdjust="spacingAndGlyphs">84</text><text x="169.0" y="186.6" font-size="7.8" text-anchor="middle" textLength="9.5" lengthAdjust="spacingAndGlyphs">86</text><text x="148.6" y="186.6" font-size="7.8" text-anchor="middle" textLength="9.5" lengthAdjust="spacingAndGlyphs">88</text><text x="128.2" y="186.6" font-size="7.8" text-anchor="middle" textLength="9.5" lengthAdjust="spacingAndGlyphs">90</text><text x="107.8" y="186.6" font-size="7.8" text-anchor="middle" textLength="9.5" lengthAdjust="spacingAndGlyphs">92</text><text x="87.4" y="186.6" font-size="7.8" text-anchor="middle" textLength="9.5" lengthAdjust="spacingAndGlyphs">94</text><text x="67.0" y="186.6" font-size="7.8" text-anchor="middle" textLength="9.5" lengthAdjust="spacingAndGlyphs">96</text><text x="46.6" y="186.6" font-size="7.8" text-anchor="middle" textLength="9.5" lengthAdjust="spacingAndGlyphs">98</text><text x="495.2" y="186.6" font-size="7.8" text-anchor="middle" textLength="13.5" lengthAdjust="spacingAndGlyphs">280</text><text x="441.0" y="186.6" font-size="7.8" text-anchor="middle" textLength="13.5" lengthAdjust="spacingAndGlyphs">285</text><text x="386.8" y="186.6" font-size="7.8" text-anchor="middle" textLength="13.5" lengthAdjust="spacingAndGlyphs">290</text><text x="332.6" y="186.6" font-size="7.8" text-anchor="middle" textLength="13.5" lengthAdjust="spacingAndGlyphs">295</text><text x="716.9" y="186.6" font-size="7.8" text-anchor="middle" textLength="13.5" lengthAdjust="spacingAndGlyphs">530</text><text x="665.6" y="186.6" font-size="7.8" text-anchor="middle" textLength="13.5" lengthAdjust="spacingAndGlyphs">535</text><text x="614.3" y="186.6" font-size="7.8" text-anchor="middle" textLength="13.5" lengthAdjust="spacingAndGlyphs">540</text><text x="563.0" y="186.6" font-size="7.8" text-anchor="middle" textLength="13.5" lengthAdjust="spacingAndGlyphs">545</text></g>
<polyline points="57.5,347.7 58.0,347.5 58.5,347.6 59.0,347.3 59.5,347.4 60.0,347.8 60.5,347.8 61.0,347.3 61.5,347.5 62.1,347.7 62.6,347.3 63.1,347.7 63.6,347.7 64.1,347.7 64.6,348.1 65.1,347.4 65.6,347.9 66.1,347.8 66.6,347.8 67.1,347.4 67.6,347.6 68.1,347.6 68.6,348.1 69.1,347.6 69.6,348.0 70.1,347.5 70.7,347.5 71.2,347.6 71.7,347.1 72.2,347.5 72.7,347.4 73.2,347.6 73.7,347.7 74.2,347.3 74.7,347.3 75.2,347.9 75.7,347.3 76.2,347.5 76.7,347.3 77.2,347.5 77.7,347.9 78.2,347.9 78.8,347.1 79.3,347.5 79.8,348.0 80.3,347.5 80.8,347.7 81.3,348.1 81.8,348.2 82.3,348.0 82.8,347.5 83.3,347.6 83.8,347.6 84.3,347.5 84.8,347.4 85.3,348.1 85.8,347.6 86.3,347.8 86.8,347.9 87.4,347.7 87.9,347.6 88.4,347.6 88.9,347.9 89.4,347.7 89.9,347.0 90.4,347.8 90.9,348.0 91.4,347.5 91.9,347.4 92.4,347.4 92.9,347.8 93.4,347.3 93.9,347.7 94.4,347.8 94.9,347.7 95.4,347.6 96.0,347.3 96.5,347.4 97.0,347.5 97.5,347.3 98.0,347.5 98.5,347.3 99.0,347.9 99.5,347.9 100.0,347.3 100.5,347.9 101.0,347.6 101.5,347.5 102.0,347.6 102.5,347.6 103.0,347.1 103.5,348.1 104.1,347.2 104.6,346.9 105.1,347.5 105.6,347.5 106.1,347.3 106.6,347.0 107.1,347.8 107.6,347.4 108.1,347.5 108.6,347.3 109.1,347.4 109.6,347.3 110.1,347.5 110.6,347.4 111.1,347.6 111.6,347.6 112.1,347.4 112.7,347.4 113.2,347.7 113.7,347.0 114.2,347.4 114.7,347.7 115.2,347.1 115.7,347.6 116.2,347.2 116.7,347.4 117.2,347.3 117.7,347.3 118.2,347.5 118.7,347.3 119.2,346.8 119.7,347.9 120.2,347.3 120.7,347.2 121.3,347.6 121.8,347.7 122.3,346.7 122.8,347.4 123.3,346.7 123.8,347.1 124.3,347.2 124.8,347.1 125.3,347.1 125.8,346.9 126.3,347.1 126.8,347.2 127.3,347.2 127.8,346.8 128.3,347.0 128.8,347.4 129.4,347.3 129.9,347.1 130.4,347.3 130.9,347.2 131.4,347.4 131.9,347.2 132.4,347.0 132.9,346.8 133.4,347.1 133.9,346.5 134.4,347.1 134.9,346.2 135.4,346.7 135.9,346.9 136.4,347.1 136.9,347.7 137.4,347.0 138.0,346.9 138.5,346.4 139.0,347.2 139.5,346.4 140.0,346.9 140.5,346.6 141.0,347.5 141.5,346.7 142.0,346.8 142.5,346.5 143.0,346.7 143.5,347.0 144.0,346.4 144.5,346.4 145.0,346.4 145.5,346.3 146.0,346.2 146.6,346.5 147.1,346.8 147.6,346.8 148.1,346.0 148.6,346.1 149.1,346.2 149.6,346.3 150.1,346.2 150.6,346.1 151.1,346.2 151.6,346.2 152.1,345.4 152.6,345.8 153.1,346.0 153.6,346.1 154.1,345.9 154.7,345.4 155.2,345.3 155.7,345.5 156.2,345.3 156.7,345.3 157.2,345.4 157.7,344.6 158.2,344.7 158.7,344.1 159.2,344.7 159.7,344.4 160.2,344.0 160.7,344.1 161.2,344.2 161.7,343.8 162.2,343.3 162.7,342.9 163.3,342.7 163.8,342.1 164.3,341.6 164.8,341.3 165.3,340.8 165.8,340.2 166.3,339.2 166.8,338.2 167.3,337.3 167.8,335.9 168.3,334.6 168.8,333.2 169.3,331.1 169.8,328.3 170.3,325.8 170.8,322.6 171.3,319.7 171.9,316.0 172.4,312.0 172.9,308.1 173.4,304.3 173.9,299.9 174.4,295.7 174.9,292.2 175.4,288.5 175.9,285.8 176.4,284.6 176.9,283.4 177.4,284.7 177.9,286.4 178.4,289.1 178.9,292.7 179.4,296.4 180.0,300.8 180.5,304.7 181.0,309.3 181.5,313.4 182.0,317.5 182.5,321.4 183.0,324.4 183.5,327.6 184.0,329.7 184.5,332.3 185.0,333.9 185.5,335.9 186.0,337.4 186.5,338.8 187.0,339.9 187.5,340.6 188.0,341.3 188.6,342.4 189.1,342.6 189.6,342.5 190.1,343.5 190.6,343.9 191.1,344.2 191.6,344.6 192.1,344.1 192.6,344.5 193.1,344.5 193.6,344.2 194.1,344.1 194.6,345.0 195.1,344.5 195.6,344.6 196.1,344.6 196.6,344.5 197.2,344.5 197.7,344.0 198.2,344.1 198.7,344.0 199.2,343.5 199.7,343.3 200.2,343.1 200.7,342.8 201.2,342.0 201.7,341.9 202.2,341.4 202.7,340.9 203.2,340.0 203.7,339.1 204.2,337.7 204.7,336.2 205.3,335.2 205.8,332.7 206.3,330.2 206.8,327.7 207.3,325.0 207.8,321.0 208.3,317.6 208.8,313.5 209.3,308.8 209.8,303.4 210.3,297.8 210.8,292.2 211.3,286.9 211.8,281.8 212.3,276.5 212.8,272.2 213.3,268.6 213.9,266.9 214.4,265.8 214.9,266.5 215.4,269.1 215.9,272.6 216.4,277.6 216.9,283.0 217.4,288.5 217.9,293.9 218.4,299.7 218.9,305.6 219.4,310.4 219.9,315.7 220.4,319.6 220.9,323.9 221.4,327.7 221.9,330.5 222.5,333.7 223.0,336.1 223.5,338.3 224.0,339.7 224.5,341.2 225.0,342.5 225.5,343.7 226.0,344.1 226.5,345.4 227.0,346.2 227.5,346.2 228.0,346.7 228.5,347.4 229.0,348.4 229.5,348.4 230.0,348.4 230.6,348.9 231.1,348.7 231.6,349.7 232.1,349.4 232.6,350.0 233.1,349.6 233.6,350.2 234.1,350.0 234.6,350.6 235.1,351.0 235.6,351.0 236.1,351.0 236.6,351.2 237.1,350.8 237.6,350.8 238.1,351.2 238.6,351.6 239.2,351.5 239.7,351.7 240.2,351.2 240.7,351.6 241.2,351.6 241.7,351.9 242.2,352.4 242.7,352.1 243.2,352.3 243.7,351.9 244.2,352.1 244.7,352.3 245.2,352.3 245.7,351.8 246.2,352.5 246.7,352.5 247.2,352.4 247.8,352.6 248.3,352.5 248.8,352.3 249.3,352.0 249.8,353.0 250.3,352.5 250.8,352.6 251.3,352.6 251.8,352.7 252.3,352.7 252.8,352.4 253.3,352.8 253.8,352.7 254.3,352.7 254.8,352.7 255.3,352.8 255.9,352.5 256.4,352.8 256.9,352.8 257.4,352.9 257.9,353.1 258.4,353.1 258.9,353.2 259.4,352.9 259.9,353.1" fill="none" stroke="#f0507c" stroke-width="1.1" stroke-linejoin="round"/>
<polyline points="57.5,339.2 58.0,338.9 58.5,338.8 59.0,339.4 59.5,338.5 60.0,338.9 60.5,339.0 61.0,338.7 61.5,338.9 62.1,339.1 62.6,338.4 63.1,339.2 63.6,339.0 64.1,338.7 64.6,339.2 65.1,338.9 65.6,338.8 66.1,338.3 66.6,339.2 67.1,338.9 67.6,338.7 68.1,338.9 68.6,339.2 69.1,338.8 69.6,338.9 70.1,338.8 70.7,338.6 71.2,338.6 71.7,338.8 72.2,338.8 72.7,339.2 73.2,338.9 73.7,338.8 74.2,339.0 74.7,338.9 75.2,339.1 75.7,338.5 76.2,338.3 76.7,339.0 77.2,338.8 77.7,339.0 78.2,338.6 78.8,338.8 79.3,338.9 79.8,338.9 80.3,338.8 80.8,339.1 81.3,338.7 81.8,339.1 82.3,338.7 82.8,338.8 83.3,338.6 83.8,338.9 84.3,338.6 84.8,339.1 85.3,338.7 85.8,338.9 86.3,338.8 86.8,338.8 87.4,338.6 87.9,339.4 88.4,338.8 88.9,339.2 89.4,338.5 89.9,339.4 90.4,339.1 90.9,339.3 91.4,338.4 91.9,339.2 92.4,338.8 92.9,339.0 93.4,339.3 93.9,338.9 94.4,338.7 94.9,338.9 95.4,338.6 96.0,338.9 96.5,338.8 97.0,338.9 97.5,338.7 98.0,338.3 98.5,338.7 99.0,338.8 99.5,339.0 100.0,339.0 100.5,338.4 101.0,339.1 101.5,339.0 102.0,338.8 102.5,338.9 103.0,338.3 103.5,339.4 104.1,338.7 104.6,338.6 105.1,339.1 105.6,338.9 106.1,338.6 106.6,338.3 107.1,339.0 107.6,339.2 108.1,338.5 108.6,338.3 109.1,338.8 109.6,339.3 110.1,338.3 110.6,338.8 111.1,338.4 111.6,338.7 112.1,338.8 112.7,338.8 113.2,338.3 113.7,338.3 114.2,339.2 114.7,338.9 115.2,338.2 115.7,338.8 116.2,339.0 116.7,338.7 117.2,338.7 117.7,338.7 118.2,338.8 118.7,338.7 119.2,338.8 119.7,338.5 120.2,338.8 120.7,338.7 121.3,338.6 121.8,338.3 122.3,338.5 122.8,338.6 123.3,338.4 123.8,338.5 124.3,338.3 124.8,338.4 125.3,338.1 125.8,338.2 126.3,338.5 126.8,338.6 127.3,338.3 127.8,338.4 128.3,338.5 128.8,338.9 129.4,338.9 129.9,338.4 130.4,338.2 130.9,338.2 131.4,338.8 131.9,338.1 132.4,338.5 132.9,338.3 133.4,338.3 133.9,338.6 134.4,338.5 134.9,338.9 135.4,338.5 135.9,338.8 136.4,338.2 136.9,338.2 137.4,338.0 138.0,338.1 138.5,338.4 139.0,338.1 139.5,338.3 140.0,338.0 140.5,338.0 141.0,338.4 141.5,338.1 142.0,338.0 142.5,338.1 143.0,337.8 143.5,337.5 144.0,338.0 144.5,338.0 145.0,338.5 145.5,337.9 146.0,337.9 146.6,338.3 147.1,337.7 147.6,337.5 148.1,337.9 148.6,337.7 149.1,337.8 149.6,337.3 150.1,337.9 150.6,337.5 151.1,336.9 151.6,337.3 152.1,337.1 152.6,337.2 153.1,337.4 153.6,337.0 154.1,336.9 154.7,337.1 155.2,336.7 155.7,336.4 156.2,336.3 156.7,336.9 157.2,336.6 157.7,336.7 158.2,335.9 158.7,335.8 159.2,335.7 159.7,335.9 160.2,335.8 160.7,335.3 161.2,335.1 161.7,335.1 162.2,334.6 162.7,334.2 163.3,333.9 163.8,333.9 164.3,333.8 164.8,332.8 165.3,332.1 165.8,331.5 166.3,330.8 166.8,329.9 167.3,328.5 167.8,327.4 168.3,325.8 168.8,324.4 169.3,322.3 169.8,319.8 170.3,317.5 170.8,314.6 171.3,311.1 171.9,307.2 172.4,303.6 172.9,299.2 173.4,295.5 173.9,291.3 174.4,287.4 174.9,283.4 175.4,279.5 175.9,277.3 176.4,275.5 176.9,275.0 177.4,275.9 177.9,277.7 178.4,280.3 178.9,283.7 179.4,287.7 180.0,291.9 180.5,296.4 181.0,300.9 181.5,304.9 182.0,309.0 182.5,312.1 183.0,316.2 183.5,318.7 184.0,320.7 184.5,323.7 185.0,325.9 185.5,327.4 186.0,328.5 186.5,330.2 187.0,331.1 187.5,332.1 188.0,333.0 188.6,332.7 189.1,334.0 189.6,334.6 190.1,334.9 190.6,335.0 191.1,335.2 191.6,335.3 192.1,335.7 192.6,336.2 193.1,335.8 193.6,336.1 194.1,336.1 194.6,336.4 195.1,336.2 195.6,336.2 196.1,336.0 196.6,336.3 197.2,335.8 197.7,335.6 198.2,335.8 198.7,335.5 199.2,335.3 199.7,334.6 200.2,335.2 200.7,334.3 201.2,334.2 201.7,333.4 202.2,332.5 202.7,332.2 203.2,331.1 203.7,330.4 204.2,328.5 204.7,327.3 205.3,325.6 205.8,324.3 206.3,322.0 206.8,318.8 207.3,316.1 207.8,312.7 208.3,308.7 208.8,304.8 209.3,299.6 209.8,294.7 210.3,289.2 210.8,284.0 211.3,278.1 211.8,272.9 212.3,267.4 212.8,263.0 213.3,259.6 213.9,257.6 214.4,256.9 214.9,258.7 215.4,260.2 215.9,264.1 216.4,268.6 216.9,274.0 217.4,280.0 217.9,285.6 218.4,291.1 218.9,296.4 219.4,302.2 219.9,307.1 220.4,310.9 220.9,315.6 221.4,318.4 221.9,322.0 222.5,325.0 223.0,326.9 223.5,328.8 224.0,331.4 224.5,332.1 225.0,333.9 225.5,334.5 226.0,335.9 226.5,337.0 227.0,337.2 227.5,337.6 228.0,337.8 228.5,338.4 229.0,339.0 229.5,339.6 230.0,340.0 230.6,340.3 231.1,340.7 231.6,340.8 232.1,341.6 232.6,341.1 233.1,341.3 233.6,340.8 234.1,341.4 234.6,341.9 235.1,341.8 235.6,342.4 236.1,342.3 236.6,342.8 237.1,342.0 237.6,342.3 238.1,342.9 238.6,342.7 239.2,342.5 239.7,342.7 240.2,342.8 240.7,343.2 241.2,343.2 241.7,343.1 242.2,342.9 242.7,343.4 243.2,343.6 243.7,343.0 244.2,343.6 244.7,343.1 245.2,343.4 245.7,343.3 246.2,343.1 246.7,343.4 247.2,343.4 247.8,343.9 248.3,343.9 248.8,343.6 249.3,343.4 249.8,343.4 250.3,343.2 250.8,343.8 251.3,343.8 251.8,343.7 252.3,343.9 252.8,344.0 253.3,344.3 253.8,343.8 254.3,344.3 254.8,343.9 255.3,344.4 255.9,343.8 256.4,344.4 256.9,343.9 257.4,344.6 257.9,344.3 258.4,343.9 258.9,344.4 259.4,344.2 259.9,344.4" fill="none" stroke="#90ee66" stroke-width="1.1" stroke-linejoin="round"/>
<polyline points="57.5,330.8 58.0,330.2 58.5,330.1 59.0,330.5 59.5,330.1 60.0,330.4 60.5,330.5 61.0,330.2 61.5,330.4 62.1,329.6 62.6,330.6 63.1,330.0 63.6,330.0 64.1,330.7 64.6,330.7 65.1,330.1 65.6,330.3 66.1,330.1 66.6,329.9 67.1,330.3 67.6,330.5 68.1,330.9 68.6,330.2 69.1,330.5 69.6,330.1 70.1,330.1 70.7,330.6 71.2,329.8 71.7,329.9 72.2,330.0 72.7,330.5 73.2,330.3 73.7,330.3 74.2,330.3 74.7,330.5 75.2,330.1 75.7,330.1 76.2,330.1 76.7,330.3 77.2,329.9 77.7,330.1 78.2,330.9 78.8,330.4 79.3,330.2 79.8,329.9 80.3,330.3 80.8,330.2 81.3,330.4 81.8,330.0 82.3,330.3 82.8,330.3 83.3,330.4 83.8,330.0 84.3,330.3 84.8,330.6 85.3,330.0 85.8,330.3 86.3,330.1 86.8,330.1 87.4,329.8 87.9,329.9 88.4,330.3 88.9,330.2 89.4,330.5 89.9,329.7 90.4,330.0 90.9,329.8 91.4,330.2 91.9,330.7 92.4,329.7 92.9,330.1 93.4,330.1 93.9,330.1 94.4,330.0 94.9,330.0 95.4,330.5 96.0,329.8 96.5,330.3 97.0,330.2 97.5,329.7 98.0,329.9 98.5,330.2 99.0,330.6 99.5,330.1 100.0,330.0 100.5,330.1 101.0,330.4 101.5,330.3 102.0,330.4 102.5,330.0 103.0,329.9 103.5,329.8 104.1,330.3 104.6,330.0 105.1,329.9 105.6,330.2 106.1,330.1 106.6,329.5 107.1,330.0 107.6,329.8 108.1,330.2 108.6,330.0 109.1,330.5 109.6,330.0 110.1,329.7 110.6,329.5 111.1,329.7 111.6,329.8 112.1,330.0 112.7,330.2 113.2,330.0 113.7,329.8 114.2,330.2 114.7,329.7 115.2,330.2 115.7,330.4 116.2,330.2 116.7,330.4 117.2,330.3 117.7,329.7 118.2,330.0 118.7,329.9 119.2,329.6 119.7,329.6 120.2,330.0 120.7,329.6 121.3,329.8 121.8,329.9 122.3,329.8 122.8,330.3 123.3,330.1 123.8,329.9 124.3,329.7 124.8,329.9 125.3,329.9 125.8,329.6 126.3,329.5 126.8,329.6 127.3,329.5 127.8,329.9 128.3,329.9 128.8,329.7 129.4,329.8 129.9,329.9 130.4,329.3 130.9,329.8 131.4,330.0 131.9,329.6 132.4,329.2 132.9,329.7 133.4,329.3 133.9,329.8 134.4,329.8 134.9,329.8 135.4,329.6 135.9,329.1 136.4,329.9 136.9,329.1 137.4,329.8 138.0,329.6 138.5,329.3 139.0,329.3 139.5,329.4 140.0,329.9 140.5,329.3 141.0,329.7 141.5,328.7 142.0,329.4 142.5,329.3 143.0,329.6 143.5,329.4 144.0,329.6 144.5,329.0 145.0,329.2 145.5,329.0 146.0,329.3 146.6,329.2 147.1,328.7 147.6,329.3 148.1,329.4 148.6,328.8 149.1,329.2 149.6,328.9 150.1,328.5 150.6,328.9 151.1,328.4 151.6,328.8 152.1,328.2 152.6,328.1 153.1,328.5 153.6,328.4 154.1,328.5 154.7,328.1 155.2,327.8 155.7,328.4 156.2,327.7 156.7,328.1 157.2,327.9 157.7,328.0 158.2,326.9 158.7,327.3 159.2,327.1 159.7,327.2 160.2,326.5 160.7,327.2 161.2,326.4 161.7,325.6 162.2,326.0 162.7,325.6 163.3,325.1 163.8,325.1 164.3,324.5 164.8,323.8 165.3,323.4 165.8,322.7 166.3,322.1 166.8,321.0 167.3,319.9 167.8,318.3 168.3,317.0 168.8,315.5 169.3,314.0 169.8,310.9 170.3,308.3 170.8,305.8 171.3,302.8 171.9,299.1 172.4,294.7 172.9,291.2 173.4,286.8 173.9,282.4 174.4,278.0 174.9,274.5 175.4,271.2 175.9,268.8 176.4,266.6 176.9,266.2 177.4,267.2 177.9,269.3 178.4,271.9 178.9,275.0 179.4,279.3 180.0,283.1 180.5,287.6 181.0,291.9 181.5,296.0 182.0,299.9 182.5,303.9 183.0,307.1 183.5,309.3 184.0,312.9 184.5,315.0 185.0,316.7 185.5,318.7 186.0,320.4 186.5,321.8 187.0,322.4 187.5,323.1 188.0,323.8 188.6,324.8 189.1,325.0 189.6,326.0 190.1,326.1 190.6,326.6 191.1,326.6 191.6,326.6 192.1,326.7 192.6,327.4 193.1,326.9 193.6,327.4 194.1,327.6 194.6,327.4 195.1,327.7 195.6,327.3 196.1,327.2 196.6,327.2 197.2,327.0 197.7,327.1 198.2,326.8 198.7,327.0 199.2,326.4 199.7,326.4 200.2,326.0 200.7,325.5 201.2,325.0 201.7,325.0 202.2,324.4 202.7,323.4 203.2,322.3 203.7,321.4 204.2,320.1 204.7,318.5 205.3,317.1 205.8,315.3 206.3,313.3 206.8,310.6 207.3,307.5 207.8,303.8 208.3,300.0 208.8,295.8 209.3,291.1 209.8,285.9 210.3,280.6 210.8,275.0 211.3,269.4 211.8,264.2 212.3,259.2 212.8,254.4 213.3,251.1 213.9,249.1 214.4,248.5 214.9,248.7 215.4,251.9 215.9,255.4 216.4,259.9 216.9,265.6 217.4,270.9 217.9,276.3 218.4,282.3 218.9,287.9 219.4,293.2 219.9,298.1 220.4,302.4 220.9,306.7 221.4,310.3 221.9,313.3 222.5,315.9 223.0,318.4 223.5,320.4 224.0,322.8 224.5,323.5 225.0,324.5 225.5,325.8 226.0,327.2 226.5,328.1 227.0,328.5 227.5,329.4 228.0,329.5 228.5,330.3 229.0,330.3 229.5,330.5 230.0,331.7 230.6,331.4 231.1,331.9 231.6,332.3 232.1,332.4 232.6,332.5 233.1,332.3 233.6,333.2 234.1,332.6 234.6,332.5 235.1,333.0 235.6,333.2 236.1,333.5 236.6,333.9 237.1,333.5 237.6,333.7 238.1,333.7 238.6,333.3 239.2,333.9 239.7,334.0 240.2,333.8 240.7,334.6 241.2,334.6 241.7,334.5 242.2,334.6 242.7,334.3 243.2,334.7 243.7,334.2 244.2,334.3 244.7,334.5 245.2,334.9 245.7,334.7 246.2,334.6 246.7,335.2 247.2,334.8 247.8,334.8 248.3,335.0 248.8,334.6 249.3,334.8 249.8,335.3 250.3,335.1 250.8,335.4 251.3,335.0 251.8,335.4 252.3,335.0 252.8,335.2 253.3,335.0 253.8,335.3 254.3,335.7 254.8,334.9 255.3,335.4 255.9,335.0 256.4,335.3 256.9,335.3 257.4,335.0 257.9,335.4 258.4,335.1 258.9,335.9 259.4,335.3 259.9,335.6" fill="none" stroke="#5464de" stroke-width="1.1" stroke-linejoin="round"/>
<polyline points="57.5,321.6 58.0,321.5 58.5,321.4 59.0,321.1 59.5,322.0 60.0,321.5 60.5,321.7 61.0,321.2 61.5,321.6 62.1,321.4 62.6,321.6 63.1,321.4 63.6,321.3 64.1,321.6 64.6,321.5 65.1,321.9 65.6,321.4 66.1,321.3 66.6,321.7 67.1,321.2 67.6,322.1 68.1,322.0 68.6,321.9 69.1,321.6 69.6,321.5 70.1,321.5 70.7,321.5 71.2,321.3 71.7,321.6 72.2,321.8 72.7,321.8 73.2,321.0 73.7,322.1 74.2,321.5 74.7,321.1 75.2,321.4 75.7,321.7 76.2,321.5 76.7,321.3 77.2,321.2 77.7,321.7 78.2,321.3 78.8,321.4 79.3,321.2 79.8,321.1 80.3,321.6 80.8,321.9 81.3,321.4 81.8,321.0 82.3,321.3 82.8,321.4 83.3,320.8 83.8,321.7 84.3,321.2 84.8,321.6 85.3,321.5 85.8,321.4 86.3,321.1 86.8,321.7 87.4,321.6 87.9,321.9 88.4,321.3 88.9,321.6 89.4,321.3 89.9,321.7 90.4,321.5 90.9,321.2 91.4,321.5 91.9,321.3 92.4,321.3 92.9,321.5 93.4,321.8 93.9,321.2 94.4,321.4 94.9,321.2 95.4,321.9 96.0,321.9 96.5,322.0 97.0,321.6 97.5,321.1 98.0,321.3 98.5,321.4 99.0,321.4 99.5,321.2 100.0,321.5 100.5,321.3 101.0,321.4 101.5,322.0 102.0,321.5 102.5,321.0 103.0,321.5 103.5,321.4 104.1,321.5 104.6,321.5 105.1,321.1 105.6,321.4 106.1,321.6 106.6,322.2 107.1,321.5 107.6,321.9 108.1,321.8 108.6,321.1 109.1,321.1 109.6,321.8 110.1,321.1 110.6,321.2 111.1,321.5 111.6,321.1 112.1,321.7 112.7,321.6 113.2,321.7 113.7,321.6 114.2,321.1 114.7,321.6 115.2,321.6 115.7,321.5 116.2,321.2 116.7,321.4 117.2,321.0 117.7,321.4 118.2,321.6 118.7,321.4 119.2,321.2 119.7,321.5 120.2,321.1 120.7,320.7 121.3,321.4 121.8,321.2 122.3,320.8 122.8,321.4 123.3,321.4 123.8,321.5 124.3,321.1 124.8,321.0 125.3,321.2 125.8,321.1 126.3,320.8 126.8,320.9 127.3,321.5 127.8,321.1 128.3,321.1 128.8,320.9 129.4,321.1 129.9,321.2 130.4,321.2 130.9,321.5 131.4,321.0 131.9,321.2 132.4,320.9 132.9,321.3 133.4,321.1 133.9,321.2 134.4,321.2 134.9,320.7 135.4,321.0 135.9,320.8 136.4,321.2 136.9,320.8 137.4,321.3 138.0,321.0 138.5,320.9 139.0,320.6 139.5,320.7 140.0,320.8 140.5,320.5 141.0,320.7 141.5,320.5 142.0,320.5 142.5,320.7 143.0,320.7 143.5,320.5 144.0,320.7 144.5,320.4 145.0,320.2 145.5,320.2 146.0,320.5 146.6,320.7 147.1,320.4 147.6,320.3 148.1,320.0 148.6,320.3 149.1,320.2 149.6,319.9 150.1,320.2 150.6,320.1 151.1,319.5 151.6,319.5 152.1,319.7 152.6,319.7 153.1,320.0 153.6,319.5 154.1,319.6 154.7,319.4 155.2,319.5 155.7,319.3 156.2,319.3 156.7,319.0 157.2,318.6 157.7,318.8 158.2,319.2 158.7,318.9 159.2,318.9 159.7,318.5 160.2,318.0 160.7,317.8 161.2,317.9 161.7,317.4 162.2,317.4 162.7,317.3 163.3,317.0 163.8,316.5 164.3,315.4 164.8,315.7 165.3,314.4 165.8,313.7 166.3,313.3 166.8,312.4 167.3,311.4 167.8,310.0 168.3,308.3 168.8,306.7 169.3,304.5 169.8,302.1 170.3,299.7 170.8,296.8 171.3,293.7 171.9,290.0 172.4,286.6 172.9,282.1 173.4,278.0 173.9,274.0 174.4,269.1 174.9,266.1 175.4,262.8 175.9,259.9 176.4,258.8 176.9,258.0 177.4,258.9 177.9,260.5 178.4,263.0 178.9,266.4 179.4,270.1 180.0,274.5 180.5,278.7 181.0,283.2 181.5,287.6 182.0,291.1 182.5,295.1 183.0,298.4 183.5,300.9 184.0,303.7 184.5,306.2 185.0,308.1 185.5,309.8 186.0,311.8 186.5,312.8 187.0,314.1 187.5,314.7 188.0,315.7 188.6,315.8 189.1,316.5 189.6,317.3 190.1,317.4 190.6,318.0 191.1,317.9 191.6,318.0 192.1,318.2 192.6,318.9 193.1,318.6 193.6,318.5 194.1,318.6 194.6,318.4 195.1,319.0 195.6,318.5 196.1,318.8 196.6,318.5 197.2,318.3 197.7,318.1 198.2,318.3 198.7,317.9 199.2,318.0 199.7,317.9 200.2,317.0 200.7,316.8 201.2,316.8 201.7,316.1 202.2,315.3 202.7,314.2 203.2,313.5 203.7,312.6 204.2,312.1 204.7,310.2 205.3,308.4 205.8,306.5 206.3,304.2 206.8,301.7 207.3,298.2 207.8,294.8 208.3,291.4 208.8,287.3 209.3,281.9 209.8,277.5 210.3,271.7 210.8,265.9 211.3,261.1 211.8,255.3 212.3,250.4 212.8,245.8 213.3,242.4 213.9,239.8 214.4,239.5 214.9,240.6 215.4,242.7 215.9,246.7 216.4,251.4 216.9,256.0 217.4,262.5 217.9,268.2 218.4,273.8 218.9,279.7 219.4,285.2 219.9,289.2 220.4,294.1 220.9,298.1 221.4,301.6 221.9,304.9 222.5,307.7 223.0,309.8 223.5,311.2 224.0,313.4 224.5,314.9 225.0,316.8 225.5,317.5 226.0,318.7 226.5,319.0 227.0,320.0 227.5,320.5 228.0,321.0 228.5,321.6 229.0,322.2 229.5,322.0 230.0,322.9 230.6,323.1 231.1,323.1 231.6,323.5 232.1,323.4 232.6,323.4 233.1,323.8 233.6,324.0 234.1,324.2 234.6,324.2 235.1,325.0 235.6,324.6 236.1,325.0 236.6,325.2 237.1,325.0 237.6,325.2 238.1,325.0 238.6,325.0 239.2,326.0 239.7,325.5 240.2,325.0 240.7,325.4 241.2,325.3 241.7,325.7 242.2,326.2 242.7,326.1 243.2,325.7 243.7,325.7 244.2,326.2 244.7,326.1 245.2,326.0 245.7,326.6 246.2,326.3 246.7,325.8 247.2,325.7 247.8,326.3 248.3,325.8 248.8,326.5 249.3,326.6 249.8,327.0 250.3,326.2 250.8,326.6 251.3,325.9 251.8,326.4 252.3,326.5 252.8,327.1 253.3,326.2 253.8,326.7 254.3,326.7 254.8,327.2 255.3,326.4 255.9,326.5 256.4,326.9 256.9,326.7 257.4,326.7 257.9,326.5 258.4,326.8 258.9,326.4 259.4,326.9 259.9,327.0" fill="none" stroke="#74f0d4" stroke-width="1.1" stroke-linejoin="round"/>
<polyline points="57.5,313.0 58.0,313.5 58.5,313.1 59.0,312.6 59.5,312.8 60.0,313.1 60.5,312.8 61.0,313.4 61.5,312.9 62.1,312.7 62.6,312.7 63.1,313.0 63.6,312.6 64.1,312.3 64.6,312.9 65.1,312.6 65.6,313.2 66.1,313.3 66.6,312.7 67.1,312.8 67.6,312.8 68.1,313.0 68.6,312.9 69.1,312.6 69.6,312.4 70.1,312.9 70.7,313.3 71.2,312.5 71.7,312.7 72.2,312.6 72.7,312.8 73.2,312.2 73.7,312.8 74.2,312.7 74.7,313.3 75.2,313.0 75.7,313.0 76.2,312.8 76.7,312.7 77.2,313.0 77.7,312.4 78.2,313.1 78.8,312.9 79.3,312.7 79.8,313.1 80.3,312.6 80.8,312.6 81.3,312.9 81.8,312.3 82.3,312.8 82.8,312.7 83.3,313.0 83.8,313.2 84.3,312.9 84.8,312.9 85.3,312.9 85.8,312.6 86.3,313.4 86.8,313.1 87.4,313.2 87.9,312.4 88.4,312.9 88.9,312.9 89.4,313.1 89.9,312.5 90.4,312.9 90.9,312.7 91.4,313.3 91.9,312.4 92.4,312.6 92.9,312.6 93.4,312.4 93.9,312.8 94.4,312.8 94.9,312.6 95.4,312.6 96.0,312.8 96.5,312.7 97.0,312.9 97.5,312.5 98.0,312.5 98.5,312.7 99.0,312.2 99.5,313.1 100.0,312.8 100.5,312.3 101.0,312.8 101.5,313.1 102.0,312.3 102.5,312.6 103.0,313.0 103.5,312.5 104.1,313.0 104.6,313.0 105.1,312.7 105.6,312.8 106.1,313.0 106.6,312.8 107.1,312.9 107.6,312.6 108.1,312.7 108.6,312.5 109.1,312.8 109.6,313.0 110.1,313.0 110.6,312.7 111.1,312.2 111.6,312.4 112.1,312.8 112.7,312.4 113.2,312.9 113.7,312.3 114.2,312.7 114.7,312.4 115.2,312.4 115.7,312.7 116.2,312.5 116.7,312.9 117.2,312.6 117.7,312.3 118.2,311.5 118.7,312.4 119.2,312.5 119.7,312.8 120.2,312.3 120.7,313.0 121.3,312.7 121.8,312.4 122.3,312.8 122.8,312.1 123.3,312.2 123.8,312.6 124.3,312.6 124.8,312.8 125.3,312.8 125.8,312.3 126.3,312.3 126.8,312.3 127.3,312.3 127.8,312.6 128.3,312.3 128.8,312.8 129.4,312.4 129.9,312.0 130.4,312.0 130.9,312.5 131.4,312.4 131.9,312.0 132.4,311.8 132.9,312.7 133.4,312.4 133.9,312.2 134.4,311.9 134.9,312.5 135.4,312.1 135.9,312.3 136.4,311.6 136.9,312.1 137.4,312.2 138.0,312.2 138.5,311.8 139.0,311.9 139.5,312.4 140.0,312.0 140.5,312.4 141.0,312.2 141.5,312.3 142.0,312.3 142.5,312.1 143.0,312.2 143.5,311.7 144.0,311.6 144.5,311.9 145.0,312.1 145.5,311.5 146.0,312.3 146.6,312.2 147.1,311.5 147.6,311.4 148.1,311.3 148.6,311.6 149.1,311.8 149.6,311.6 150.1,311.2 150.6,311.5 151.1,311.5 151.6,311.6 152.1,311.5 152.6,310.9 153.1,310.9 153.6,311.3 154.1,311.2 154.7,310.9 155.2,310.6 155.7,310.9 156.2,310.6 156.7,311.0 157.2,310.6 157.7,310.1 158.2,309.8 158.7,310.2 159.2,310.0 159.7,309.4 160.2,309.5 160.7,309.4 161.2,308.9 161.7,308.7 162.2,308.2 162.7,308.0 163.3,308.1 163.8,307.6 164.3,307.1 164.8,307.0 165.3,306.3 165.8,305.1 166.3,305.0 166.8,303.4 167.3,302.5 167.8,301.3 168.3,299.6 168.8,297.9 169.3,295.7 169.8,293.8 170.3,291.2 170.8,288.2 171.3,284.4 171.9,281.1 172.4,277.8 172.9,273.6 173.4,269.5 173.9,265.1 174.4,260.9 174.9,256.5 175.4,254.3 175.9,251.0 176.4,249.5 176.9,249.3 177.4,249.8 177.9,251.7 178.4,254.3 178.9,257.5 179.4,262.1 180.0,265.6 180.5,270.4 181.0,274.2 181.5,278.7 182.0,282.3 182.5,286.1 183.0,289.3 183.5,292.5 184.0,295.4 184.5,297.3 185.0,299.4 185.5,300.7 186.0,303.3 186.5,304.1 187.0,304.8 187.5,306.4 188.0,306.8 188.6,306.8 189.1,307.5 189.6,308.6 190.1,308.3 190.6,308.7 191.1,309.0 191.6,309.3 192.1,309.5 192.6,310.0 193.1,310.0 193.6,309.7 194.1,309.9 194.6,309.5 195.1,310.0 195.6,310.6 196.1,310.0 196.6,309.7 197.2,309.6 197.7,309.6 198.2,309.6 198.7,308.9 199.2,309.2 199.7,308.6 200.2,308.6 200.7,308.4 201.2,307.3 201.7,307.9 202.2,306.8 202.7,305.8 203.2,305.2 203.7,303.9 204.2,302.9 204.7,301.6 205.3,299.3 205.8,297.9 206.3,295.7 206.8,293.3 207.3,290.1 207.8,286.3 208.3,282.5 208.8,278.4 209.3,273.9 209.8,268.5 210.3,263.7 210.8,257.8 211.3,252.2 211.8,246.9 212.3,241.5 212.8,237.3 213.3,234.0 213.9,231.2 214.4,230.8 214.9,231.6 215.4,234.3 215.9,237.7 216.4,242.4 216.9,247.6 217.4,252.9 217.9,259.4 218.4,265.1 218.9,270.7 219.4,276.8 219.9,281.1 220.4,285.2 220.9,289.1 221.4,292.9 221.9,295.7 222.5,298.4 223.0,301.2 223.5,302.8 224.0,304.5 224.5,306.3 225.0,308.0 225.5,308.4 226.0,309.8 226.5,310.6 227.0,311.2 227.5,311.9 228.0,312.0 228.5,312.5 229.0,312.8 229.5,313.3 230.0,314.0 230.6,314.1 231.1,314.1 231.6,314.7 232.1,314.0 232.6,315.1 233.1,315.3 233.6,315.1 234.1,315.3 234.6,315.7 235.1,315.9 235.6,315.8 236.1,315.8 236.6,316.0 237.1,316.4 237.6,316.3 238.1,316.3 238.6,316.4 239.2,317.5 239.7,317.0 240.2,317.0 240.7,316.9 241.2,316.9 241.7,316.8 242.2,316.9 242.7,317.2 243.2,317.2 243.7,316.8 244.2,317.4 244.7,317.2 245.2,317.0 245.7,317.3 246.2,318.0 246.7,317.4 247.2,317.6 247.8,317.6 248.3,317.3 248.8,317.5 249.3,317.7 249.8,317.5 250.3,317.6 250.8,317.7 251.3,317.7 251.8,317.7 252.3,317.9 252.8,318.0 253.3,317.9 253.8,318.2 254.3,318.3 254.8,317.6 255.3,318.0 255.9,318.0 256.4,318.0 256.9,318.0 257.4,318.0 257.9,318.0 258.4,318.3 258.9,317.9 259.4,318.3 259.9,317.9" fill="none" stroke="#c474ee" stroke-width="1.1" stroke-linejoin="round"/>
<polyline points="321.8,326.4 322.9,313.7 323.9,283.3 325.0,300.2 326.0,307.9 327.1,292.4 328.2,313.5 329.2,296.9 330.3,330.8 331.4,304.7 332.4,307.6 333.5,290.0 334.5,285.0 335.6,310.6 336.7,274.2 337.7,306.7 338.8,328.4 339.9,333.2 340.9,275.2 342.0,299.3 343.0,307.6 344.1,309.1 345.2,314.1 346.2,278.0 347.3,299.2 348.4,271.5 349.4,300.9 350.5,332.8 351.5,285.5 352.6,303.4 353.7,301.5 354.7,274.8 355.8,301.9 356.8,280.8 357.9,298.1 359.0,309.1 360.0,290.5 361.1,306.9 362.2,279.8 363.2,283.8 364.3,297.1 365.3,289.0 366.4,289.6 367.5,302.1 368.5,284.8 369.6,301.4 370.7,288.9 371.7,312.0 372.8,296.5 373.8,291.8 374.9,309.7 376.0,304.1 377.0,305.8 378.1,287.2 379.1,308.6 380.2,291.5 381.3,275.4 382.3,292.6 383.4,321.8 384.5,296.1 385.5,282.5 386.6,302.1 387.6,281.5 388.7,288.7 389.8,291.7 390.8,301.7 391.9,305.5 393.0,301.7 394.0,296.9 395.1,290.1 396.1,291.6 397.2,302.3 398.3,296.9 399.3,292.1 400.4,321.9 401.5,309.2 402.5,309.6 403.6,300.8 404.6,301.9 405.7,301.6 406.8,310.7 407.8,287.8 408.9,293.7 409.9,322.1 411.0,297.6 412.1,314.4 413.1,272.6 414.2,304.5 415.3,303.6 416.3,296.5 417.4,300.7 418.4,298.6 419.5,274.9 420.6,294.4 421.6,285.4 422.7,281.1 423.8,312.2 424.8,272.8 425.9,287.6 426.9,283.6 428.0,310.5 429.1,285.6 430.1,291.6 431.2,305.7 432.2,264.0 433.3,289.3 434.4,301.3 435.4,294.8 436.5,284.3 437.6,281.0 438.6,289.1 439.7,279.7 440.7,276.0 441.8,316.0 442.9,304.9 443.9,311.6 445.0,296.3 446.1,276.4 447.1,288.0 448.2,313.2 449.2,302.0 450.3,282.5 451.4,305.6 452.4,299.1 453.5,293.2 454.6,324.6 455.6,286.2 456.7,292.6 457.7,289.3 458.8,312.2 459.9,309.1 460.9,306.5 462.0,294.0 463.0,296.7 464.1,295.8 465.2,271.2 466.2,278.4 467.3,308.3 468.4,307.4 469.4,272.3 470.5,302.4 471.5,277.3 472.6,274.1 473.7,305.7 474.7,301.7 475.8,296.5 476.9,310.5 477.9,312.2 479.0,303.6 480.0,285.1 481.1,304.3 482.2,300.7 483.2,304.6 484.3,317.9 485.3,275.7 486.4,332.3 487.5,307.4 488.5,289.4 489.6,318.3 490.7,288.8 491.7,279.2 492.8,310.4 493.8,294.6 494.9,314.1 496.0,290.2 497.0,296.4 498.1,294.5 499.2,277.5 500.2,290.7 501.3,277.8 502.3,288.3 503.4,315.4 504.5,293.8 505.5,290.5 506.6,319.1 507.7,278.0 508.7,296.7 509.8,292.3 510.8,311.0 511.9,296.6 513.0,293.3 514.0,302.5 515.1,296.5 516.1,329.1 517.2,277.6 518.3,314.2 519.3,330.0 520.4,311.9 521.5,310.1 522.5,289.7 523.6,311.2" fill="none" stroke="#90ee66" stroke-width="0.95" stroke-linejoin="round"/>
<polyline points="321.8,279.0 322.9,296.3 323.9,252.2 325.0,275.4 326.0,255.7 327.1,297.1 328.2,273.7 329.2,296.3 330.3,274.9 331.4,273.5 332.4,305.2 333.5,298.8 334.5,299.2 335.6,303.9 336.7,293.1 337.7,296.3 338.8,303.1 339.9,281.6 340.9,275.4 342.0,301.3 343.0,290.8 344.1,282.9 345.2,286.2 346.2,292.8 347.3,271.7 348.4,271.2 349.4,273.6 350.5,285.9 351.5,255.4 352.6,258.8 353.7,288.6 354.7,284.7 355.8,266.5 356.8,294.2 357.9,277.5 359.0,282.4 360.0,292.8 361.1,286.3 362.2,304.9 363.2,290.6 364.3,310.8 365.3,251.3 366.4,262.1 367.5,266.0 368.5,278.9 369.6,269.2 370.7,265.4 371.7,268.9 372.8,270.3 373.8,295.8 374.9,277.1 376.0,290.5 377.0,299.5 378.1,299.0 379.1,277.2 380.2,268.5 381.3,302.2 382.3,258.8 383.4,262.7 384.5,288.4 385.5,289.6 386.6,284.2 387.6,269.5 388.7,288.5 389.8,298.6 390.8,278.4 391.9,311.9 393.0,281.2 394.0,267.0 395.1,278.9 396.1,272.3 397.2,276.3 398.3,273.1 399.3,281.2 400.4,294.7 401.5,286.3 402.5,284.2 403.6,265.7 404.6,260.6 405.7,277.3 406.8,293.7 407.8,293.4 408.9,285.8 409.9,263.9 411.0,278.5 412.1,284.0 413.1,293.8 414.2,270.9 415.3,279.2 416.3,283.9 417.4,281.8 418.4,259.7 419.5,285.4 420.6,259.7 421.6,265.9 422.7,282.5 423.8,270.9 424.8,284.9 425.9,294.7 426.9,286.9 428.0,295.8 429.1,276.1 430.1,283.0 431.2,275.3 432.2,271.7 433.3,326.6 434.4,278.9 435.4,308.3 436.5,280.9 437.6,295.4 438.6,281.7 439.7,264.2 440.7,307.0 441.8,280.5 442.9,284.3 443.9,309.5 445.0,274.2 446.1,282.7 447.1,290.3 448.2,293.2 449.2,238.5 450.3,288.7 451.4,308.3 452.4,296.2 453.5,288.3 454.6,288.6 455.6,284.3 456.7,297.8 457.7,275.7 458.8,289.9 459.9,302.1 460.9,294.6 462.0,288.6 463.0,271.4 464.1,276.5 465.2,287.9 466.2,282.9 467.3,280.2 468.4,254.8 469.4,291.8 470.5,276.7 471.5,273.1 472.6,296.5 473.7,280.6 474.7,280.9 475.8,289.7 476.9,275.3 477.9,268.9 479.0,267.5 480.0,285.9 481.1,280.6 482.2,250.5 483.2,298.6 484.3,280.1 485.3,270.8 486.4,281.1 487.5,274.1 488.5,280.8 489.6,272.7 490.7,265.3 491.7,286.3 492.8,280.5 493.8,284.0 494.9,288.8 496.0,283.5 497.0,299.0 498.1,272.8 499.2,259.5 500.2,259.5 501.3,265.4 502.3,296.6 503.4,262.0 504.5,293.2 505.5,283.9 506.6,257.5 507.7,298.1 508.7,271.5 509.8,279.3 510.8,285.3 511.9,295.4 513.0,277.3 514.0,289.7 515.1,268.7 516.1,266.2 517.2,302.4 518.3,290.2 519.3,287.6 520.4,299.6 521.5,298.8 522.5,282.0 523.6,286.1" fill="none" stroke="#74f0d4" stroke-width="0.95" stroke-linejoin="round"/>
<polyline points="321.8,318.1 322.9,301.6 323.9,286.0 325.0,311.5 326.0,307.3 327.1,270.2 328.2,274.2 329.2,317.6 330.3,313.6 331.4,288.1 332.4,311.3 333.5,297.4 334.5,300.3 335.6,285.4 336.7,331.0 337.7,326.2 338.8,311.8 339.9,278.6 340.9,295.9 342.0,318.9 343.0,286.3 344.1,283.2 345.2,297.3 346.2,298.5 347.3,287.2 348.4,275.8 349.4,291.4 350.5,285.8 351.5,294.4 352.6,299.3 353.7,307.2 354.7,289.8 355.8,298.1 356.8,297.2 357.9,279.9 359.0,286.4 360.0,280.8 361.1,316.9 362.2,285.4 363.2,302.4 364.3,305.6 365.3,306.2 366.4,275.7 367.5,281.4 368.5,304.2 369.6,310.5 370.7,293.4 371.7,300.4 372.8,269.1 373.8,315.3 374.9,320.7 376.0,297.4 377.0,293.5 378.1,291.7 379.1,282.5 380.2,263.0 381.3,298.7 382.3,301.7 383.4,319.7 384.5,290.0 385.5,281.0 386.6,297.5 387.6,276.2 388.7,293.2 389.8,271.2 390.8,288.7 391.9,309.3 393.0,303.1 394.0,316.3 395.1,319.3 396.1,289.7 397.2,280.8 398.3,264.7 399.3,294.5 400.4,297.1 401.5,310.0 402.5,279.0 403.6,287.9 404.6,302.4 405.7,283.5 406.8,285.3 407.8,321.3 408.9,282.7 409.9,291.6 411.0,299.4 412.1,299.8 413.1,267.8 414.2,270.9 415.3,266.6 416.3,310.6 417.4,303.3 418.4,280.2 419.5,311.5 420.6,304.3 421.6,320.3 422.7,266.2 423.8,277.9 424.8,286.9 425.9,290.4 426.9,299.8 428.0,299.5 429.1,284.5 430.1,304.2 431.2,275.5 432.2,300.9 433.3,306.6 434.4,274.4 435.4,295.8 436.5,285.4 437.6,299.8 438.6,326.9 439.7,285.5 440.7,313.6 441.8,277.6 442.9,316.6 443.9,321.2 445.0,289.1 446.1,287.4 447.1,292.1 448.2,311.6 449.2,280.5 450.3,315.3 451.4,300.5 452.4,305.3 453.5,299.2 454.6,281.0 455.6,303.0 456.7,285.3 457.7,283.4 458.8,318.9 459.9,310.9 460.9,299.3 462.0,302.4 463.0,289.1 464.1,322.2 465.2,283.0 466.2,282.6 467.3,296.1 468.4,314.1 469.4,293.6 470.5,301.6 471.5,285.3 472.6,294.9 473.7,282.9 474.7,300.0 475.8,272.3 476.9,327.7 477.9,308.7 479.0,286.4 480.0,316.0 481.1,282.8 482.2,311.6 483.2,292.3 484.3,307.2 485.3,300.2 486.4,291.1 487.5,295.2 488.5,299.3 489.6,261.8 490.7,293.5 491.7,308.0 492.8,279.9 493.8,281.5 494.9,275.6 496.0,267.2 497.0,307.5 498.1,278.0 499.2,276.8 500.2,293.6 501.3,290.0 502.3,338.1 503.4,302.1 504.5,267.2 505.5,320.1 506.6,301.6 507.7,289.4 508.7,285.1 509.8,269.5 510.8,319.7 511.9,293.0 513.0,280.9 514.0,313.1 515.1,294.2 516.1,265.8 517.2,274.2 518.3,285.7 519.3,332.3 520.4,295.6 521.5,287.9 522.5,298.2 523.6,294.6" fill="none" stroke="#5464de" stroke-width="0.95" stroke-linejoin="round"/>
<polyline points="321.8,224.5 322.9,273.3 323.9,284.5 325.0,266.6 326.0,274.8 327.1,274.7 328.2,271.4 329.2,258.7 330.3,266.6 331.4,287.9 332.4,272.1 333.5,263.1 334.5,277.1 335.6,253.2 336.7,258.7 337.7,284.8 338.8,265.4 339.9,240.8 340.9,247.1 342.0,271.0 343.0,256.9 344.1,280.1 345.2,291.6 346.2,262.0 347.3,266.5 348.4,262.5 349.4,270.5 350.5,265.3 351.5,277.7 352.6,263.2 353.7,257.8 354.7,271.0 355.8,258.1 356.8,296.3 357.9,281.8 359.0,248.8 360.0,244.1 361.1,266.4 362.2,271.7 363.2,288.9 364.3,264.8 365.3,258.6 366.4,292.1 367.5,261.9 368.5,262.9 369.6,263.6 370.7,286.8 371.7,262.1 372.8,292.3 373.8,248.1 374.9,268.2 376.0,287.4 377.0,250.3 378.1,253.1 379.1,279.8 380.2,237.6 381.3,285.0 382.3,265.5 383.4,252.7 384.5,303.7 385.5,255.3 386.6,271.1 387.6,270.4 388.7,286.1 389.8,265.2 390.8,286.6 391.9,284.5 393.0,276.8 394.0,288.3 395.1,246.9 396.1,289.8 397.2,281.3 398.3,274.8 399.3,270.1 400.4,258.4 401.5,258.0 402.5,274.6 403.6,275.8 404.6,269.6 405.7,258.0 406.8,259.8 407.8,277.8 408.9,300.6 409.9,238.5 411.0,256.1 412.1,266.3 413.1,265.1 414.2,277.9 415.3,285.0 416.3,275.1 417.4,273.4 418.4,279.4 419.5,291.7 420.6,274.8 421.6,261.6 422.7,277.5 423.8,269.8 424.8,300.8 425.9,273.2 426.9,272.0 428.0,288.3 429.1,295.7 430.1,264.1 431.2,282.1 432.2,262.9 433.3,276.4 434.4,260.9 435.4,275.2 436.5,292.4 437.6,271.4 438.6,275.0 439.7,260.4 440.7,276.8 441.8,276.0 442.9,257.4 443.9,252.9 445.0,258.9 446.1,254.8 447.1,263.4 448.2,258.8 449.2,257.2 450.3,264.2 451.4,269.2 452.4,268.0 453.5,234.6 454.6,269.9 455.6,273.7 456.7,275.5 457.7,270.6 458.8,266.5 459.9,286.9 460.9,299.4 462.0,265.8 463.0,293.9 464.1,266.3 465.2,268.1 466.2,253.1 467.3,245.4 468.4,264.7 469.4,278.3 470.5,287.5 471.5,281.9 472.6,269.6 473.7,300.8 474.7,269.0 475.8,270.3 476.9,260.6 477.9,275.1 479.0,268.6 480.0,281.0 481.1,277.0 482.2,296.4 483.2,268.3 484.3,247.2 485.3,267.7 486.4,264.7 487.5,284.7 488.5,249.0 489.6,281.5 490.7,258.3 491.7,268.6 492.8,284.3 493.8,255.0 494.9,269.9 496.0,267.5 497.0,263.5 498.1,270.5 499.2,275.8 500.2,263.3 501.3,276.1 502.3,269.2 503.4,280.0 504.5,292.2 505.5,280.1 506.6,277.5 507.7,269.9 508.7,252.6 509.8,295.1 510.8,268.2 511.9,302.9 513.0,285.6 514.0,277.6 515.1,303.5 516.1,297.6 517.2,267.9 518.3,269.0 519.3,271.8 520.4,282.0 521.5,238.3 522.5,272.5 523.6,282.9" fill="none" stroke="#c474ee" stroke-width="0.95" stroke-linejoin="round"/>
<polyline points="321.8,340.2 322.9,323.2 323.9,340.8 325.0,335.6 326.0,342.1 327.1,328.9 328.2,333.1 329.2,331.0 330.3,334.8 331.4,335.5 332.4,334.4 333.5,344.3 334.5,330.5 335.6,330.8 336.7,337.1 337.7,335.3 338.8,333.8 339.9,327.7 340.9,333.1 342.0,335.0 343.0,337.6 344.1,342.4 345.2,338.1 346.2,334.9 347.3,336.4 348.4,334.8 349.4,331.6 350.5,333.1 351.5,333.9 352.6,332.0 353.7,334.3 354.7,335.3 355.8,332.9 356.8,343.4 357.9,329.2 359.0,341.3 360.0,331.2 361.1,335.1 362.2,329.9 363.2,335.0 364.3,339.7 365.3,330.0 366.4,334.3 367.5,334.6 368.5,334.8 369.6,330.4 370.7,331.2 371.7,334.1 372.8,342.6 373.8,337.1 374.9,334.6 376.0,326.6 377.0,333.3 378.1,335.6 379.1,329.4 380.2,335.7 381.3,335.3 382.3,334.4 383.4,342.3 384.5,330.6 385.5,333.1 386.6,336.5 387.6,340.6 388.7,334.1 389.8,328.4 390.8,338.2 391.9,340.2 393.0,333.1 394.0,342.8 395.1,345.8 396.1,337.3 397.2,338.4 398.3,336.5 399.3,337.8 400.4,333.5 401.5,336.2 402.5,338.0 403.6,337.3 404.6,332.1 405.7,330.5 406.8,330.8 407.8,331.8 408.9,350.9 409.9,339.9 411.0,336.6 412.1,334.1 413.1,342.9 414.2,328.3 415.3,333.7 416.3,338.1 417.4,334.3 418.4,336.8 419.5,338.7 420.6,332.7 421.6,337.3 422.7,341.9 423.8,338.1 424.8,335.7 425.9,340.3 426.9,329.1 428.0,340.3 429.1,326.7 430.1,330.8 431.2,339.5 432.2,334.4 433.3,329.3 434.4,335.8 435.4,340.6 436.5,334.3 437.6,325.2 438.6,341.7 439.7,331.8 440.7,334.2 441.8,334.6 442.9,335.6 443.9,334.9 445.0,328.1 446.1,329.7 447.1,336.7 448.2,323.9 449.2,336.7 450.3,326.5 451.4,327.8 452.4,321.8 453.5,324.5 454.6,319.8 455.6,323.4 456.7,317.0 457.7,318.2 458.8,307.7 459.9,319.3 460.9,308.2 462.0,309.6 463.0,308.9 464.1,310.3 465.2,303.5 466.2,310.7 467.3,308.3 468.4,296.7 469.4,306.1 470.5,290.5 471.5,297.7 472.6,294.4 473.7,294.8 474.7,293.0 475.8,296.9 476.9,298.8 477.9,300.0 479.0,297.5 480.0,300.7 481.1,303.9 482.2,312.1 483.2,318.6 484.3,329.1 485.3,321.1 486.4,322.7 487.5,330.8 488.5,326.7 489.6,325.7 490.7,332.4 491.7,328.5 492.8,332.6 493.8,342.7 494.9,336.9 496.0,336.8 497.0,332.4 498.1,339.1 499.2,337.1 500.2,339.6 501.3,335.2 502.3,334.7 503.4,330.4 504.5,331.2 505.5,334.2 506.6,333.9 507.7,334.5 508.7,334.5 509.8,327.6 510.8,346.9 511.9,335.9 513.0,333.5 514.0,329.6 515.1,340.3 516.1,333.4 517.2,330.9 518.3,337.2 519.3,344.2 520.4,336.8 521.5,340.8 522.5,331.9 523.6,339.1" fill="none" stroke="#f0507c" stroke-width="0.95" stroke-linejoin="round"/>
<polyline points="584.5,259.0 585.7,266.0 586.9,271.2 588.1,273.6 589.3,277.8 590.6,277.2 591.8,277.4 593.0,283.8 594.2,283.6 595.4,290.2 596.6,289.6 597.8,287.3 599.0,297.8 600.3,293.8 601.5,295.8 602.7,304.6 603.9,305.3 605.1,306.0 606.3,303.2 607.5,307.9 608.7,308.8 610.0,308.3 611.2,311.0 612.4,312.1 613.6,314.6 614.8,312.5 616.0,318.0 617.2,313.6 618.4,319.2 619.6,321.3 620.9,319.0 622.1,320.4 623.3,326.8 624.5,322.7 625.7,327.1 626.9,326.8 628.1,323.9 629.3,328.4 630.6,326.3 631.8,328.7 633.0,324.1 634.2,329.3 635.4,332.4 636.6,332.8 637.8,332.9 639.0,331.1 640.3,331.9 641.5,330.2 642.7,332.5 643.9,333.1 645.1,333.1 646.3,334.5 647.5,334.0 648.7,333.3 649.9,333.6 651.2,337.0 652.4,340.1 653.6,338.3 654.8,336.1 656.0,342.7 657.2,338.5 658.4,336.6 659.6,339.2 660.9,340.7 662.1,334.5 663.3,335.6 664.5,339.5 665.7,336.2 666.9,336.4 668.1,342.1 669.3,333.7 670.6,342.1 671.8,340.7 673.0,342.8 674.2,340.3 675.4,343.6 676.6,340.8 677.8,338.5 679.0,340.6 680.2,341.8 681.5,337.9 682.7,343.5 683.9,339.4 685.1,342.4 686.3,341.3 687.5,341.9 688.7,341.7 689.9,342.2 691.2,343.9 692.4,343.5 693.6,341.2 694.8,342.5 696.0,344.9 697.2,343.8 698.4,343.8 699.6,342.3 700.9,341.6 702.1,341.7 703.3,343.3 704.5,341.6 705.7,344.6 706.9,347.9 708.1,341.3 709.3,344.8 710.5,343.0 711.8,343.5 713.0,339.3 714.2,343.4 715.4,340.0 716.6,341.8 717.8,343.5 719.0,344.4 720.2,340.0 721.5,340.3 722.7,339.7 723.9,337.5 725.1,341.3 726.3,341.5 727.5,342.7 728.7,342.4 729.9,343.7 731.2,345.1 732.4,338.8 733.6,347.7 734.8,343.1 736.0,342.8 737.2,343.6 738.4,346.2 739.6,344.6 740.8,345.3 742.1,346.7 743.3,344.5 744.5,345.3 745.7,345.7 746.9,342.9 748.1,346.9 749.3,343.5 750.5,345.9 751.8,343.6 753.0,344.4 754.2,344.1 755.4,346.9 756.6,346.4 757.8,346.6 759.0,344.3 760.2,343.0 761.5,342.3 762.7,345.9 763.9,344.6 765.1,348.4 766.3,349.8 767.5,346.7 768.7,346.3 769.9,348.3 771.1,348.8 772.4,343.6 773.6,346.7 774.8,348.7 776.0,339.6 777.2,344.5 778.4,345.6 779.6,343.4 780.8,346.6 782.1,341.3 783.3,348.4 784.5,347.9 785.7,345.3 786.9,346.7" fill="none" stroke="#f0507c" stroke-width="1.0" stroke-linejoin="round"/>
<polyline points="584.5,251.8 585.7,262.0 586.9,263.3 588.1,264.3 589.3,266.5 590.6,268.4 591.8,272.7 593.0,271.2 594.2,279.8 595.4,280.8 596.6,281.6 597.8,286.5 599.0,288.6 600.3,291.1 601.5,293.5 602.7,296.5 603.9,297.0 605.1,301.0 606.3,298.4 607.5,304.4 608.7,297.8 610.0,300.1 611.2,302.9 612.4,307.2 613.6,309.4 614.8,306.6 616.0,310.2 617.2,310.5 618.4,314.5 619.6,311.5 620.9,316.8 622.1,315.7 623.3,320.8 624.5,319.3 625.7,317.6 626.9,320.6 628.1,321.4 629.3,319.4 630.6,322.1 631.8,319.8 633.0,328.8 634.2,322.7 635.4,323.5 636.6,328.7 637.8,328.7 639.0,324.4 640.3,329.3 641.5,328.9 642.7,326.6 643.9,329.2 645.1,327.8 646.3,331.3 647.5,329.1 648.7,327.7 649.9,329.8 651.2,335.8 652.4,329.8 653.6,331.5 654.8,334.0 656.0,329.1 657.2,336.5 658.4,328.6 659.6,334.6 660.9,329.9 662.1,333.8 663.3,336.9 664.5,334.0 665.7,333.7 666.9,333.4 668.1,332.5 669.3,337.1 670.6,334.1 671.8,333.8 673.0,336.2 674.2,337.9 675.4,338.1 676.6,334.4 677.8,334.5 679.0,338.3 680.2,339.6 681.5,333.9 682.7,340.3 683.9,336.6 685.1,338.9 686.3,341.1 687.5,337.0 688.7,337.8 689.9,334.2 691.2,332.4 692.4,338.0 693.6,335.3 694.8,335.3 696.0,338.8 697.2,339.6 698.4,333.9 699.6,338.3 700.9,337.5 702.1,338.0 703.3,337.5 704.5,338.4 705.7,335.2 706.9,333.9 708.1,337.4 709.3,339.5 710.5,336.2 711.8,339.5 713.0,337.5 714.2,333.3 715.4,330.8 716.6,335.2 717.8,338.5 719.0,334.5 720.2,341.4 721.5,338.1 722.7,333.3 723.9,335.3 725.1,340.4 726.3,341.3 727.5,335.8 728.7,338.1 729.9,339.6 731.2,337.5 732.4,340.0 733.6,343.2 734.8,337.2 736.0,340.6 737.2,341.6 738.4,342.4 739.6,338.9 740.8,341.4 742.1,338.2 743.3,340.3 744.5,337.3 745.7,340.7 746.9,341.3 748.1,344.3 749.3,342.3 750.5,338.3 751.8,333.0 753.0,342.8 754.2,342.3 755.4,339.2 756.6,338.9 757.8,341.5 759.0,339.8 760.2,343.6 761.5,340.7 762.7,338.0 763.9,336.4 765.1,340.5 766.3,340.7 767.5,339.1 768.7,337.6 769.9,339.0 771.1,341.8 772.4,339.3 773.6,338.0 774.8,341.8 776.0,343.2 777.2,339.0 778.4,339.4 779.6,338.0 780.8,340.0 782.1,341.7 783.3,341.2 784.5,342.5 785.7,342.4 786.9,341.5" fill="none" stroke="#90ee66" stroke-width="1.0" stroke-linejoin="round"/>
<polyline points="584.5,247.4 585.7,247.2 586.9,255.6 588.1,256.1 589.3,260.2 590.6,258.4 591.8,263.9 593.0,267.9 594.2,267.7 595.4,271.8 596.6,275.3 597.8,273.0 599.0,277.0 600.3,276.7 601.5,280.0 602.7,282.7 603.9,286.0 605.1,290.4 606.3,288.0 607.5,291.1 608.7,291.2 610.0,294.2 611.2,297.2 612.4,299.2 613.6,296.7 614.8,296.6 616.0,301.4 617.2,300.8 618.4,299.9 619.6,305.9 620.9,305.8 622.1,308.5 623.3,304.3 624.5,307.2 625.7,309.7 626.9,313.2 628.1,310.7 629.3,308.8 630.6,312.5 631.8,313.5 633.0,311.8 634.2,316.6 635.4,314.3 636.6,313.7 637.8,317.4 639.0,318.0 640.3,316.2 641.5,317.4 642.7,318.2 643.9,317.7 645.1,318.1 646.3,321.1 647.5,321.0 648.7,318.9 649.9,317.7 651.2,317.6 652.4,322.9 653.6,318.8 654.8,319.9 656.0,322.0 657.2,321.1 658.4,320.7 659.6,318.8 660.9,325.4 662.1,322.0 663.3,323.9 664.5,324.3 665.7,321.5 666.9,322.4 668.1,326.7 669.3,325.3 670.6,324.3 671.8,328.2 673.0,323.3 674.2,325.6 675.4,325.2 676.6,325.0 677.8,321.8 679.0,325.9 680.2,327.0 681.5,322.4 682.7,327.5 683.9,327.7 685.1,329.8 686.3,324.4 687.5,326.3 688.7,325.9 689.9,326.7 691.2,327.5 692.4,329.1 693.6,329.1 694.8,326.5 696.0,327.3 697.2,324.0 698.4,329.4 699.6,328.9 700.9,330.2 702.1,324.9 703.3,330.8 704.5,326.3 705.7,324.9 706.9,328.5 708.1,326.6 709.3,333.1 710.5,329.2 711.8,332.1 713.0,328.1 714.2,328.5 715.4,330.3 716.6,326.5 717.8,327.9 719.0,329.9 720.2,329.9 721.5,332.1 722.7,329.2 723.9,324.1 725.1,330.5 726.3,328.0 727.5,330.2 728.7,327.2 729.9,328.0 731.2,329.6 732.4,333.1 733.6,330.2 734.8,326.4 736.0,329.7 737.2,327.8 738.4,330.3 739.6,333.4 740.8,328.3 742.1,328.6 743.3,330.6 744.5,330.1 745.7,328.7 746.9,330.7 748.1,328.6 749.3,329.8 750.5,334.7 751.8,329.7 753.0,330.8 754.2,331.3 755.4,328.6 756.6,330.6 757.8,328.3 759.0,327.1 760.2,329.2 761.5,333.0 762.7,331.2 763.9,327.5 765.1,330.1 766.3,331.4 767.5,329.8 768.7,328.5 769.9,329.0 771.1,328.2 772.4,331.5 773.6,330.3 774.8,330.2 776.0,329.7 777.2,334.4 778.4,330.2 779.6,332.7 780.8,326.6 782.1,326.2 783.3,326.0 784.5,327.9 785.7,330.8 786.9,327.6" fill="none" stroke="#5464de" stroke-width="1.0" stroke-linejoin="round"/>
<polyline points="584.5,238.0 585.7,239.5 586.9,246.1 588.1,248.5 589.3,249.1 590.6,249.0 591.8,255.7 593.0,253.2 594.2,254.6 595.4,266.0 596.6,265.5 597.8,269.8 599.0,270.1 600.3,273.0 601.5,274.0 602.7,273.5 603.9,275.4 605.1,278.6 606.3,280.9 607.5,282.2 608.7,283.7 610.0,284.2 611.2,286.9 612.4,287.1 613.6,292.4 614.8,289.0 616.0,288.0 617.2,292.7 618.4,297.4 619.6,292.2 620.9,297.0 622.1,303.9 623.3,298.7 624.5,297.7 625.7,299.1 626.9,298.0 628.1,300.2 629.3,302.0 630.6,307.5 631.8,306.2 633.0,304.0 634.2,303.6 635.4,308.0 636.6,307.7 637.8,305.8 639.0,311.7 640.3,312.3 641.5,309.0 642.7,308.4 643.9,310.5 645.1,315.0 646.3,310.2 647.5,313.7 648.7,309.6 649.9,311.7 651.2,311.3 652.4,310.8 653.6,313.7 654.8,311.0 656.0,310.4 657.2,312.6 658.4,310.8 659.6,315.5 660.9,312.3 662.1,314.0 663.3,317.0 664.5,315.2 665.7,316.5 666.9,316.7 668.1,315.5 669.3,313.5 670.6,316.8 671.8,316.0 673.0,319.8 674.2,316.4 675.4,314.2 676.6,315.2 677.8,316.1 679.0,318.4 680.2,319.6 681.5,317.8 682.7,320.7 683.9,320.6 685.1,315.8 686.3,320.1 687.5,314.1 688.7,321.5 689.9,317.4 691.2,321.1 692.4,318.2 693.6,321.0 694.8,318.6 696.0,319.2 697.2,319.9 698.4,317.8 699.6,315.7 700.9,320.5 702.1,317.2 703.3,319.1 704.5,319.4 705.7,314.5 706.9,324.3 708.1,321.0 709.3,323.6 710.5,320.3 711.8,320.2 713.0,311.2 714.2,319.0 715.4,315.8 716.6,317.0 717.8,320.9 719.0,318.9 720.2,316.3 721.5,319.7 722.7,319.6 723.9,319.0 725.1,323.5 726.3,322.0 727.5,319.5 728.7,319.0 729.9,322.3 731.2,321.0 732.4,320.6 733.6,320.7 734.8,318.8 736.0,320.2 737.2,320.1 738.4,323.6 739.6,322.9 740.8,319.8 742.1,324.1 743.3,320.0 744.5,322.1 745.7,322.4 746.9,319.2 748.1,322.2 749.3,322.6 750.5,322.2 751.8,320.6 753.0,314.5 754.2,325.5 755.4,320.8 756.6,321.3 757.8,318.6 759.0,321.6 760.2,326.4 761.5,317.8 762.7,323.3 763.9,321.0 765.1,323.9 766.3,323.3 767.5,322.0 768.7,319.0 769.9,319.0 771.1,322.3 772.4,319.8 773.6,321.8 774.8,320.7 776.0,320.6 777.2,319.6 778.4,322.4 779.6,321.3 780.8,320.5 782.1,320.8 783.3,322.8 784.5,317.2 785.7,322.1 786.9,319.3" fill="none" stroke="#74f0d4" stroke-width="1.0" stroke-linejoin="round"/>
<polyline points="584.5,228.4 585.7,229.5 586.9,240.3 588.1,233.9 589.3,241.9 590.6,247.0 591.8,246.7 593.0,244.5 594.2,251.0 595.4,257.3 596.6,257.8 597.8,256.0 599.0,264.3 600.3,263.6 601.5,265.8 602.7,262.1 603.9,269.5 605.1,267.6 606.3,273.7 607.5,275.6 608.7,273.1 610.0,275.4 611.2,282.1 612.4,278.1 613.6,279.4 614.8,283.5 616.0,282.8 617.2,283.8 618.4,286.6 619.6,287.9 620.9,289.1 622.1,289.2 623.3,292.5 624.5,290.5 625.7,294.6 626.9,291.9 628.1,293.1 629.3,296.0 630.6,292.5 631.8,290.7 633.0,292.8 634.2,299.5 635.4,294.2 636.6,297.1 637.8,298.3 639.0,300.1 640.3,299.3 641.5,296.7 642.7,299.1 643.9,301.7 645.1,302.7 646.3,302.6 647.5,300.7 648.7,298.3 649.9,305.2 651.2,303.2 652.4,304.4 653.6,305.6 654.8,303.3 656.0,303.3 657.2,308.0 658.4,307.4 659.6,302.7 660.9,305.0 662.1,304.8 663.3,307.3 664.5,307.3 665.7,305.6 666.9,308.0 668.1,309.5 669.3,307.3 670.6,305.4 671.8,310.0 673.0,305.5 674.2,306.4 675.4,310.1 676.6,308.3 677.8,308.6 679.0,307.2 680.2,307.3 681.5,311.8 682.7,312.0 683.9,306.8 685.1,309.0 686.3,308.5 687.5,308.8 688.7,306.2 689.9,312.4 691.2,307.4 692.4,311.7 693.6,308.4 694.8,307.1 696.0,313.3 697.2,309.4 698.4,311.0 699.6,311.1 700.9,310.4 702.1,312.9 703.3,312.8 704.5,309.2 705.7,308.9 706.9,312.1 708.1,314.1 709.3,305.7 710.5,308.5 711.8,310.2 713.0,313.4 714.2,312.4 715.4,310.6 716.6,313.4 717.8,307.7 719.0,311.0 720.2,310.5 721.5,313.7 722.7,313.5 723.9,313.2 725.1,310.9 726.3,312.1 727.5,312.2 728.7,310.9 729.9,311.1 731.2,308.4 732.4,312.1 733.6,314.0 734.8,311.8 736.0,308.5 737.2,313.0 738.4,311.7 739.6,312.6 740.8,311.0 742.1,311.3 743.3,313.7 744.5,312.4 745.7,309.9 746.9,309.5 748.1,309.9 749.3,310.1 750.5,312.8 751.8,312.8 753.0,310.0 754.2,314.7 755.4,312.2 756.6,316.2 757.8,313.0 759.0,313.7 760.2,314.8 761.5,310.9 762.7,313.8 763.9,313.0 765.1,312.8 766.3,313.8 767.5,309.1 768.7,313.3 769.9,311.8 771.1,315.2 772.4,313.3 773.6,313.0 774.8,313.0 776.0,313.6 777.2,312.0 778.4,308.8 779.6,312.6 780.8,312.6 782.1,313.2 783.3,306.7 784.5,308.8 785.7,311.1 786.9,310.8" fill="none" stroke="#c474ee" stroke-width="1.0" stroke-linejoin="round"/>
<rect x="57.5" y="222.3" width="202.5" height="139.2" fill="none" stroke="#8c98ac" stroke-width="1"/>
<line x1="57.5" y1="222.3" x2="57.5" y2="361.5" stroke="#7c889c" stroke-width="2"/>
<line x1="57.5" y1="361.5" x2="260.0" y2="361.5" stroke="#3c4658" stroke-width="1.3"/>
<path d="M56.5,361.5h2.5M56.5,353.0h2.5M56.5,344.0h2.5M56.5,335.5h2.5M56.5,326.5h2.5M56.5,318.0h2.5M56.5,309.5h2.5M56.5,300.5h2.5M56.5,292.0h2.5M56.5,283.0h2.5M56.5,274.5h2.5M56.5,266.0h2.5M56.5,257.0h2.5M56.5,248.5h2.5M56.5,239.5h2.5M56.5,231.0h2.5M56.5,222.5h2.5" stroke="#333" stroke-width="1.2" fill="none"/>
<g font-size="7.5" font-weight="bold" text-anchor="end"><text x="54.7" y="365.9" font-size="7.5" text-anchor="end" textLength="3.6" lengthAdjust="spacingAndGlyphs">0</text><text x="54.7" y="348.5" font-size="7.5" text-anchor="end" textLength="3.6" lengthAdjust="spacingAndGlyphs">2</text><text x="54.7" y="331.1" font-size="7.5" text-anchor="end" textLength="3.6" lengthAdjust="spacingAndGlyphs">4</text><text x="54.7" y="313.7" font-size="7.5" text-anchor="end" textLength="3.6" lengthAdjust="spacingAndGlyphs">6</text><text x="54.7" y="296.3" font-size="7.5" text-anchor="end" textLength="3.6" lengthAdjust="spacingAndGlyphs">8</text><text x="54.7" y="278.9" font-size="7.5" text-anchor="end" textLength="7.4" lengthAdjust="spacingAndGlyphs">10</text><text x="54.7" y="261.5" font-size="7.5" text-anchor="end" textLength="7.4" lengthAdjust="spacingAndGlyphs">12</text><text x="54.7" y="244.1" font-size="7.5" text-anchor="end" textLength="7.4" lengthAdjust="spacingAndGlyphs">14</text><text x="54.7" y="226.7" font-size="7.5" text-anchor="end" textLength="7.4" lengthAdjust="spacingAndGlyphs">16</text></g>
<g font-size="7.6" text-anchor="middle" fill="#111"><text x="134.7" y="209.0" font-size="7.6" text-anchor="middle" textLength="33" lengthAdjust="spacingAndGlyphs">Au4f Scan</text><text x="134.7" y="217.2" font-size="7.6" text-anchor="middle" textLength="90.5" lengthAdjust="spacingAndGlyphs">Spot size 200µm,  CAE50.0</text></g>
<text x="158.8" y="385.6" font-size="7.8" text-anchor="middle" textLength="69" lengthAdjust="spacingAndGlyphs" font-weight="bold">Binding Energy (eV)</text>
<rect x="321.0" y="222.3" width="202.5" height="139.2" fill="none" stroke="#8c98ac" stroke-width="1"/>
<line x1="321.0" y1="222.3" x2="321.0" y2="361.5" stroke="#7c889c" stroke-width="2"/>
<line x1="321.0" y1="361.5" x2="523.5" y2="361.5" stroke="#3c4658" stroke-width="1.3"/>
<path d="M320.0,361.5h2.5M320.0,353.0h2.5M320.0,344.0h2.5M320.0,335.5h2.5M320.0,326.5h2.5M320.0,318.0h2.5M320.0,309.5h2.5M320.0,300.5h2.5M320.0,292.0h2.5M320.0,283.0h2.5M320.0,274.5h2.5M320.0,266.0h2.5M320.0,257.0h2.5M320.0,248.5h2.5M320.0,239.5h2.5M320.0,231.0h2.5M320.0,222.5h2.5" stroke="#333" stroke-width="1.2" fill="none"/>
<g font-size="7.5" font-weight="bold" text-anchor="end"><text x="318.2" y="365.9" font-size="7.5" text-anchor="end" textLength="3.6" lengthAdjust="spacingAndGlyphs">0</text><text x="318.2" y="348.5" font-size="7.5" text-anchor="end" textLength="3.6" lengthAdjust="spacingAndGlyphs">2</text><text x="318.2" y="331.1" font-size="7.5" text-anchor="end" textLength="3.6" lengthAdjust="spacingAndGlyphs">4</text><text x="318.2" y="313.7" font-size="7.5" text-anchor="end" textLength="3.6" lengthAdjust="spacingAndGlyphs">6</text><text x="318.2" y="296.3" font-size="7.5" text-anchor="end" textLength="3.6" lengthAdjust="spacingAndGlyphs">8</text><text x="318.2" y="278.9" font-size="7.5" text-anchor="end" textLength="7.4" lengthAdjust="spacingAndGlyphs">10</text><text x="318.2" y="261.5" font-size="7.5" text-anchor="end" textLength="7.4" lengthAdjust="spacingAndGlyphs">12</text><text x="318.2" y="244.1" font-size="7.5" text-anchor="end" textLength="7.4" lengthAdjust="spacingAndGlyphs">14</text><text x="318.2" y="226.7" font-size="7.5" text-anchor="end" textLength="7.4" lengthAdjust="spacingAndGlyphs">16</text></g>
<g font-size="7.6" text-anchor="middle" fill="#111"><text x="398.8" y="209.0" font-size="7.6" text-anchor="middle" textLength="28.4" lengthAdjust="spacingAndGlyphs">C1s Scan</text><text x="398.8" y="217.2" font-size="7.6" text-anchor="middle" textLength="90.5" lengthAdjust="spacingAndGlyphs">Spot size 200µm,  CAE50.0</text></g>
<text x="422.2" y="385.6" font-size="7.8" text-anchor="middle" textLength="69" lengthAdjust="spacingAndGlyphs" font-weight="bold">Binding Energy (eV)</text>
<rect x="584.5" y="222.3" width="202.5" height="139.2" fill="none" stroke="#8c98ac" stroke-width="1"/>
<line x1="584.5" y1="222.3" x2="584.5" y2="361.5" stroke="#7c889c" stroke-width="2"/>
<line x1="584.5" y1="361.5" x2="787.0" y2="361.5" stroke="#3c4658" stroke-width="1.3"/>
<path d="M583.5,361.5h2.5M583.5,353.0h2.5M583.5,344.0h2.5M583.5,335.5h2.5M583.5,326.5h2.5M583.5,318.0h2.5M583.5,309.5h2.5M583.5,300.5h2.5M583.5,292.0h2.5M583.5,283.0h2.5M583.5,274.5h2.5M583.5,266.0h2.5M583.5,257.0h2.5M583.5,248.5h2.5M583.5,239.5h2.5M583.5,231.0h2.5M583.5,222.5h2.5" stroke="#333" stroke-width="1.2" fill="none"/>
<g font-size="7.5" font-weight="bold" text-anchor="end"><text x="581.7" y="365.9" font-size="7.5" text-anchor="end" textLength="3.6" lengthAdjust="spacingAndGlyphs">0</text><text x="581.7" y="348.5" font-size="7.5" text-anchor="end" textLength="3.6" lengthAdjust="spacingAndGlyphs">2</text><text x="581.7" y="331.1" font-size="7.5" text-anchor="end" textLength="3.6" lengthAdjust="spacingAndGlyphs">4</text><text x="581.7" y="313.7" font-size="7.5" text-anchor="end" textLength="3.6" lengthAdjust="spacingAndGlyphs">6</text><text x="581.7" y="296.3" font-size="7.5" text-anchor="end" textLength="3.6" lengthAdjust="spacingAndGlyphs">8</text><text x="581.7" y="278.9" font-size="7.5" text-anchor="end" textLength="7.4" lengthAdjust="spacingAndGlyphs">10</text><text x="581.7" y="261.5" font-size="7.5" text-anchor="end" textLength="7.4" lengthAdjust="spacingAndGlyphs">12</text><text x="581.7" y="244.1" font-size="7.5" text-anchor="end" textLength="7.4" lengthAdjust="spacingAndGlyphs">14</text><text x="581.7" y="226.7" font-size="7.5" text-anchor="end" textLength="7.4" lengthAdjust="spacingAndGlyphs">16</text></g>
<g font-size="7.6" text-anchor="middle" fill="#111"><text x="661.7" y="209.0" font-size="7.6" text-anchor="middle" textLength="29" lengthAdjust="spacingAndGlyphs">O1s Scan</text><text x="661.7" y="217.2" font-size="7.6" text-anchor="middle" textLength="90.5" lengthAdjust="spacingAndGlyphs">Spot size 200µm,  CAE50.0</text></g>
<text x="685.8" y="385.6" font-size="7.8" text-anchor="middle" textLength="69" lengthAdjust="spacingAndGlyphs" font-weight="bold">Binding Energy (eV)</text>
<path d="M254.8,360.0v3M249.8,360.0v3M244.7,360.0v3M239.7,360.0v3M234.6,360.0v3M229.5,360.0v3M224.5,360.0v3M219.4,360.0v3M214.4,360.0v3M209.3,360.0v3M204.2,360.0v3M199.2,360.0v3M194.1,360.0v3M189.1,360.0v3M184.0,360.0v3M178.9,360.0v3M173.9,360.0v3M168.8,360.0v3M163.8,360.0v3M158.7,360.0v3M153.6,360.0v3M148.6,360.0v3M143.5,360.0v3M138.5,360.0v3M133.4,360.0v3M128.3,360.0v3M123.3,360.0v3M118.2,360.0v3M113.2,360.0v3M108.1,360.0v3M103.0,360.0v3M98.0,360.0v3M92.9,360.0v3M87.9,360.0v3M82.8,360.0v3M77.7,360.0v3M72.7,360.0v3M67.6,360.0v3M62.6,360.0v3M57.5,360.0v3M523.6,360.0v3M513.0,360.0v3M502.3,360.0v3M491.7,360.0v3M481.1,360.0v3M470.5,360.0v3M459.9,360.0v3M449.2,360.0v3M438.6,360.0v3M428.0,360.0v3M417.4,360.0v3M406.8,360.0v3M396.1,360.0v3M385.5,360.0v3M374.9,360.0v3M364.3,360.0v3M353.7,360.0v3M343.0,360.0v3M332.4,360.0v3M321.8,360.0v3M777.1,360.0v3M767.0,360.0v3M756.9,360.0v3M746.8,360.0v3M736.7,360.0v3M726.6,360.0v3M716.5,360.0v3M706.4,360.0v3M696.3,360.0v3M686.2,360.0v3M676.1,360.0v3M666.0,360.0v3M655.9,360.0v3M645.8,360.0v3M635.7,360.0v3M625.6,360.0v3M615.5,360.0v3M605.4,360.0v3M595.3,360.0v3M585.2,360.0v3" stroke="#333" stroke-width="1.2" fill="none"/>
<g font-size="8.4" font-weight="bold" text-anchor="middle"><text x="249.8" y="374.6" font-size="8.2" text-anchor="middle" textLength="8.4" lengthAdjust="spacingAndGlyphs">80</text><text x="239.7" y="374.6" font-size="8.2" text-anchor="middle" textLength="8.4" lengthAdjust="spacingAndGlyphs">81</text><text x="229.5" y="374.6" font-size="8.2" text-anchor="middle" textLength="8.4" lengthAdjust="spacingAndGlyphs">82</text><text x="219.4" y="374.6" font-size="8.2" text-anchor="middle" textLength="8.4" lengthAdjust="spacingAndGlyphs">83</text><text x="209.3" y="374.6" font-size="8.2" text-anchor="middle" textLength="8.4" lengthAdjust="spacingAndGlyphs">84</text><text x="199.2" y="374.6" font-size="8.2" text-anchor="middle" textLength="8.4" lengthAdjust="spacingAndGlyphs">85</text><text x="189.1" y="374.6" font-size="8.2" text-anchor="middle" textLength="8.4" lengthAdjust="spacingAndGlyphs">86</text><text x="178.9" y="374.6" font-size="8.2" text-anchor="middle" textLength="8.4" lengthAdjust="spacingAndGlyphs">87</text><text x="168.8" y="374.6" font-size="8.2" text-anchor="middle" textLength="8.4" lengthAdjust="spacingAndGlyphs">88</text><text x="158.7" y="374.6" font-size="8.2" text-anchor="middle" textLength="8.4" lengthAdjust="spacingAndGlyphs">89</text><text x="148.6" y="374.6" font-size="8.2" text-anchor="middle" textLength="8.4" lengthAdjust="spacingAndGlyphs">90</text><text x="138.5" y="374.6" font-size="8.2" text-anchor="middle" textLength="8.4" lengthAdjust="spacingAndGlyphs">91</text><text x="128.3" y="374.6" font-size="8.2" text-anchor="middle" textLength="8.4" lengthAdjust="spacingAndGlyphs">92</text><text x="118.2" y="374.6" font-size="8.2" text-anchor="middle" textLength="8.4" lengthAdjust="spacingAndGlyphs">93</text><text x="108.1" y="374.6" font-size="8.2" text-anchor="middle" textLength="8.4" lengthAdjust="spacingAndGlyphs">94</text><text x="98.0" y="374.6" font-size="8.2" text-anchor="middle" textLength="8.4" lengthAdjust="spacingAndGlyphs">95</text><text x="87.9" y="374.6" font-size="8.2" text-anchor="middle" textLength="8.4" lengthAdjust="spacingAndGlyphs">96</text><text x="77.7" y="374.6" font-size="8.2" text-anchor="middle" textLength="8.4" lengthAdjust="spacingAndGlyphs">97</text><text x="67.6" y="374.6" font-size="8.2" text-anchor="middle" textLength="8.4" lengthAdjust="spacingAndGlyphs">98</text><text x="57.5" y="374.6" font-size="8.2" text-anchor="middle" textLength="8.4" lengthAdjust="spacingAndGlyphs">99</text><text x="513.0" y="374.6" font-size="8.4" text-anchor="middle" textLength="13.2" lengthAdjust="spacingAndGlyphs">280</text><text x="491.7" y="374.6" font-size="8.4" text-anchor="middle" textLength="13.2" lengthAdjust="spacingAndGlyphs">282</text><text x="470.5" y="374.6" font-size="8.4" text-anchor="middle" textLength="13.2" lengthAdjust="spacingAndGlyphs">284</text><text x="449.2" y="374.6" font-size="8.4" text-anchor="middle" textLength="13.2" lengthAdjust="spacingAndGlyphs">286</text><text x="428.0" y="374.6" font-size="8.4" text-anchor="middle" textLength="13.2" lengthAdjust="spacingAndGlyphs">288</text><text x="406.8" y="374.6" font-size="8.4" text-anchor="middle" textLength="13.2" lengthAdjust="spacingAndGlyphs">290</text><text x="385.5" y="374.6" font-size="8.4" text-anchor="middle" textLength="13.2" lengthAdjust="spacingAndGlyphs">292</text><text x="364.3" y="374.6" font-size="8.4" text-anchor="middle" textLength="13.2" lengthAdjust="spacingAndGlyphs">294</text><text x="343.0" y="374.6" font-size="8.4" text-anchor="middle" textLength="13.2" lengthAdjust="spacingAndGlyphs">296</text><text x="321.8" y="374.6" font-size="8.4" text-anchor="middle" textLength="13.2" lengthAdjust="spacingAndGlyphs">298</text><text x="777.1" y="374.6" font-size="8.4" text-anchor="middle" textLength="13.2" lengthAdjust="spacingAndGlyphs">526</text><text x="756.9" y="374.6" font-size="8.4" text-anchor="middle" textLength="13.2" lengthAdjust="spacingAndGlyphs">528</text><text x="736.7" y="374.6" font-size="8.4" text-anchor="middle" textLength="13.2" lengthAdjust="spacingAndGlyphs">530</text><text x="716.5" y="374.6" font-size="8.4" text-anchor="middle" textLength="13.2" lengthAdjust="spacingAndGlyphs">532</text><text x="696.3" y="374.6" font-size="8.4" text-anchor="middle" textLength="13.2" lengthAdjust="spacingAndGlyphs">534</text><text x="676.1" y="374.6" font-size="8.4" text-anchor="middle" textLength="13.2" lengthAdjust="spacingAndGlyphs">536</text><text x="655.9" y="374.6" font-size="8.4" text-anchor="middle" textLength="13.2" lengthAdjust="spacingAndGlyphs">538</text><text x="635.7" y="374.6" font-size="8.4" text-anchor="middle" textLength="13.2" lengthAdjust="spacingAndGlyphs">540</text><text x="615.5" y="374.6" font-size="8.4" text-anchor="middle" textLength="13.2" lengthAdjust="spacingAndGlyphs">542</text><text x="595.3" y="374.6" font-size="8.4" text-anchor="middle" textLength="13.2" lengthAdjust="spacingAndGlyphs">544</text></g>
</svg></body></html>
